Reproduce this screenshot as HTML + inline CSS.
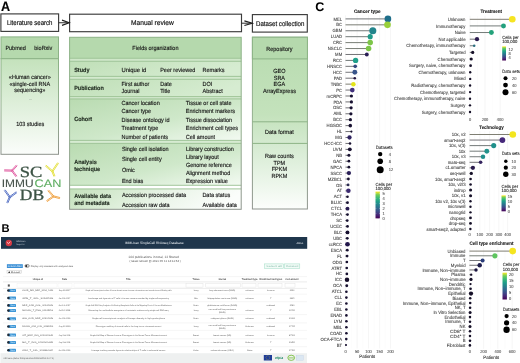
<!DOCTYPE html>
<html><head><meta charset="utf-8"><title>scIMMUcanDB figure</title>
<style>
html,body{margin:0;padding:0;background:#fff;}
body{width:520px;height:363px;overflow:hidden;}
svg{display:block;text-rendering:geometricPrecision;font-family:"Liberation Sans",Arial,sans-serif;}
</style></head><body>
<svg width="520" height="363" viewBox="0 0 520 363">
<defs>
<linearGradient id="gv" x1="0" y1="0" x2="0" y2="1"><stop offset="0" stop-color="#c4e2bc"/><stop offset="1" stop-color="#fbfdfb"/></linearGradient>
<linearGradient id="gd" x1="0" y1="0" x2="1" y2="1"><stop offset="0" stop-color="#b9dbb1"/><stop offset="0.55" stop-color="#cfe8ca"/><stop offset="1" stop-color="#f3faf2"/></linearGradient>
<linearGradient id="gd2" x1="0" y1="0" x2="1" y2="0.3"><stop offset="0" stop-color="#bfdfb7"/><stop offset="1" stop-color="#d6ecd1"/></linearGradient>
<linearGradient id="gd3" x1="0" y1="0" x2="1" y2="0.2"><stop offset="0" stop-color="#c3e1bb"/><stop offset="0.6" stop-color="#eaf5e8"/><stop offset="1" stop-color="#fbfdfb"/></linearGradient>
<linearGradient id="gds" x1="0" y1="0" x2="0" y2="1"><stop offset="0" stop-color="#b7dbaf"/><stop offset="0.45" stop-color="#c4e2bc"/><stop offset="0.62" stop-color="#d4ead0"/><stop offset="1" stop-color="#fcfefc"/></linearGradient>
<linearGradient id="gs" x1="0" y1="0" x2="0" y2="1"><stop offset="0" stop-color="#8cb386"/><stop offset="0.5" stop-color="#94b08f"/><stop offset="1" stop-color="#8e948d"/></linearGradient>
<linearGradient id="vir" x1="0" y1="1" x2="0" y2="0">
<stop offset="0" stop-color="#440154"/><stop offset="0.13" stop-color="#482878"/><stop offset="0.25" stop-color="#3e4a89"/><stop offset="0.38" stop-color="#31688e"/><stop offset="0.5" stop-color="#26828e"/><stop offset="0.63" stop-color="#1f9e89"/><stop offset="0.75" stop-color="#35b779"/><stop offset="0.88" stop-color="#6ece58"/><stop offset="1" stop-color="#fde725"/></linearGradient>
</defs>
<text x="1.00" y="11.10" font-size="13.608" stroke="#000" stroke-width="0.13" fill="#000" font-weight="bold" textLength="9.10" lengthAdjust="spacingAndGlyphs">A</text>
<rect x="0.90" y="13.90" width="57.70" height="17.50" fill="#fff" stroke="#3c3c3c" stroke-width="1.15"/>
<rect x="69.60" y="14.20" width="171.90" height="17.50" fill="#fff" stroke="#3c3c3c" stroke-width="1.15"/>
<rect x="252.40" y="14.60" width="54.90" height="17.50" fill="#fff" stroke="#3c3c3c" stroke-width="1.15"/>
<text x="6.90" y="24.90" font-size="6.9" stroke="#333" stroke-width="0.18" textLength="45.60" lengthAdjust="spacingAndGlyphs">Literature search</text>
<text x="131.00" y="25.10" font-size="6.9" stroke="#333" stroke-width="0.18" textLength="42.80" lengthAdjust="spacingAndGlyphs">Manual review</text>
<text x="256.00" y="25.60" font-size="6.9" stroke="#333" stroke-width="0.18" textLength="48.40" lengthAdjust="spacingAndGlyphs">Dataset collection</text>
<line x1="58.60" y1="22.75" x2="68.20" y2="22.75" stroke="#2a2a2a" stroke-width="1.0" />
<path d="M62.00,20.15 L69.20,22.75 L62.00,25.35" fill="none" stroke="#1e1e1e" stroke-width="1.15" stroke-linejoin="miter"/>
<line x1="241.60" y1="23.20" x2="251.20" y2="23.20" stroke="#2a2a2a" stroke-width="1.0" />
<path d="M244.40,20.90 L252.20,23.20 L244.40,25.50" fill="none" stroke="#1e1e1e" stroke-width="1.15" stroke-linejoin="miter"/>
<rect x="1.00" y="36.90" width="57.50" height="21.80" fill="#b5d9ad" stroke="#8cb386" stroke-width="1"/>
<rect x="1.00" y="58.70" width="57.50" height="95.60" fill="url(#gv)" stroke="url(#gs)" stroke-width="1"/>
<text x="5.40" y="50.10" font-size="5.94" stroke="#333" stroke-width="0.13" textLength="20.49" lengthAdjust="spacingAndGlyphs">Pubmed</text>
<text x="34.30" y="50.10" font-size="5.94" stroke="#333" stroke-width="0.13" textLength="18.03" lengthAdjust="spacingAndGlyphs">bioRxiv</text>
<text x="29.80" y="79.10" font-size="5.94" stroke="#333" stroke-width="0.13" text-anchor="middle" textLength="41.89" lengthAdjust="spacingAndGlyphs">«Human cancer»</text>
<text x="29.80" y="86.00" font-size="5.94" stroke="#333" stroke-width="0.13" text-anchor="middle" textLength="40.66" lengthAdjust="spacingAndGlyphs">«single-cell RNA</text>
<text x="29.80" y="92.40" font-size="5.94" stroke="#333" stroke-width="0.13" text-anchor="middle" textLength="31.19" lengthAdjust="spacingAndGlyphs">sequencing»</text>
<text x="30.30" y="99.50" font-size="4.32" stroke="#9aa59a" stroke-width="0.13" fill="#9aa59a" text-anchor="middle" textLength="3.33" lengthAdjust="spacingAndGlyphs">...</text>
<text x="30.20" y="126.00" font-size="5.94" stroke="#333" stroke-width="0.13" text-anchor="middle" textLength="28.13" lengthAdjust="spacingAndGlyphs">103 studies</text>
<rect x="69.60" y="37.30" width="171.60" height="21.00" fill="#b5d9ad"/>
<rect x="69.60" y="61.30" width="171.60" height="15.10" fill="url(#gd2)"/>
<rect x="69.60" y="79.30" width="171.60" height="17.30" fill="url(#gd2)"/>
<rect x="69.60" y="98.90" width="171.60" height="41.50" fill="url(#gd)"/>
<rect x="69.60" y="143.40" width="171.60" height="41.90" fill="url(#gd)"/>
<rect x="69.60" y="188.90" width="171.60" height="20.40" fill="url(#gd3)"/>
<rect x="69.60" y="58.30" width="171.60" height="3.00" fill="#cfe7c9"/>
<line x1="69.60" y1="58.30" x2="241.20" y2="58.30" stroke="#97bf90" stroke-width="0.9" />
<line x1="69.60" y1="61.30" x2="241.20" y2="61.30" stroke="#97bf90" stroke-width="0.9" />
<rect x="69.60" y="76.40" width="171.60" height="2.90" fill="#d3eace"/>
<line x1="69.60" y1="76.40" x2="241.20" y2="76.40" stroke="#97bf90" stroke-width="0.9" />
<line x1="69.60" y1="79.30" x2="241.20" y2="79.30" stroke="#97bf90" stroke-width="0.9" />
<rect x="69.60" y="96.60" width="171.60" height="2.30" fill="#d3eace"/>
<line x1="69.60" y1="96.60" x2="241.20" y2="96.60" stroke="#97bf90" stroke-width="0.9" />
<line x1="69.60" y1="98.90" x2="241.20" y2="98.90" stroke="#97bf90" stroke-width="0.9" />
<rect x="69.60" y="140.40" width="171.60" height="3.00" fill="#d6ebd1"/>
<line x1="69.60" y1="140.40" x2="241.20" y2="140.40" stroke="#97bf90" stroke-width="0.9" />
<line x1="69.60" y1="143.40" x2="241.20" y2="143.40" stroke="#97bf90" stroke-width="0.9" />
<rect x="69.60" y="185.30" width="171.60" height="3.60" fill="#ffffff"/>
<line x1="69.60" y1="185.30" x2="241.20" y2="185.30" stroke="#97bf90" stroke-width="0.9" />
<line x1="69.60" y1="188.90" x2="241.20" y2="188.90" stroke="#97bf90" stroke-width="0.9" />
<rect x="69.60" y="37.30" width="171.60" height="172.00" fill="none" stroke="url(#gs)" stroke-width="1"/>
<text x="155.40" y="50.00" font-size="5.94" stroke="#333" stroke-width="0.13" text-anchor="middle" textLength="46.17" lengthAdjust="spacingAndGlyphs">Fields organization</text>
<text x="74.20" y="72.40" font-size="5.94" stroke="#1f2a1f" stroke-width="0.13" fill="#1f2a1f" font-weight="bold" textLength="15.28" lengthAdjust="spacingAndGlyphs">Study</text>
<text x="121.50" y="72.40" font-size="5.94" stroke="#333" stroke-width="0.13" textLength="24.77" lengthAdjust="spacingAndGlyphs">Unique  id</text>
<text x="160.20" y="72.40" font-size="5.94" stroke="#333" stroke-width="0.13" textLength="35.16" lengthAdjust="spacingAndGlyphs">Peer reviewed</text>
<text x="202.60" y="72.40" font-size="5.94" stroke="#333" stroke-width="0.13" textLength="22.00" lengthAdjust="spacingAndGlyphs">Remarks</text>
<text x="74.20" y="89.70" font-size="5.94" stroke="#1f2a1f" stroke-width="0.13" fill="#1f2a1f" font-weight="bold" textLength="29.64" lengthAdjust="spacingAndGlyphs">Publication</text>
<text x="121.50" y="86.20" font-size="5.94" stroke="#333" stroke-width="0.13" textLength="27.81" lengthAdjust="spacingAndGlyphs">First author</text>
<text x="160.20" y="86.20" font-size="5.94" stroke="#333" stroke-width="0.13" textLength="11.62" lengthAdjust="spacingAndGlyphs">Date</text>
<text x="202.60" y="86.20" font-size="5.94" stroke="#333" stroke-width="0.13" textLength="9.78" lengthAdjust="spacingAndGlyphs">DOI</text>
<text x="121.50" y="93.20" font-size="5.94" stroke="#333" stroke-width="0.13" textLength="18.04" lengthAdjust="spacingAndGlyphs">Journal</text>
<text x="160.20" y="93.20" font-size="5.94" stroke="#333" stroke-width="0.13" textLength="10.19" lengthAdjust="spacingAndGlyphs">Title</text>
<text x="202.60" y="93.20" font-size="5.94" stroke="#333" stroke-width="0.13" textLength="20.17" lengthAdjust="spacingAndGlyphs">Abstract</text>
<text x="74.20" y="121.20" font-size="5.94" stroke="#1f2a1f" stroke-width="0.13" fill="#1f2a1f" font-weight="bold" textLength="18.02" lengthAdjust="spacingAndGlyphs">Cohort</text>
<text x="121.50" y="105.00" font-size="5.94" stroke="#333" stroke-width="0.13" textLength="38.22" lengthAdjust="spacingAndGlyphs">Cancer location</text>
<text x="185.80" y="105.00" font-size="5.94" stroke="#333" stroke-width="0.13" textLength="45.65" lengthAdjust="spacingAndGlyphs">Tissue or cell state</text>
<text x="121.50" y="113.48" font-size="5.94" stroke="#333" stroke-width="0.13" textLength="29.65" lengthAdjust="spacingAndGlyphs">Cancer type</text>
<text x="185.80" y="113.48" font-size="5.94" stroke="#333" stroke-width="0.13" textLength="49.21" lengthAdjust="spacingAndGlyphs">Enrichment markers</text>
<text x="121.50" y="121.96" font-size="5.94" stroke="#333" stroke-width="0.13" textLength="48.00" lengthAdjust="spacingAndGlyphs">Disease ontology id</text>
<text x="185.80" y="121.96" font-size="5.94" stroke="#333" stroke-width="0.13" textLength="46.26" lengthAdjust="spacingAndGlyphs">Tissue dissociation</text>
<text x="121.50" y="130.44" font-size="5.94" stroke="#333" stroke-width="0.13" textLength="36.78" lengthAdjust="spacingAndGlyphs">Treatment type</text>
<text x="185.80" y="130.44" font-size="5.94" stroke="#333" stroke-width="0.13" textLength="52.27" lengthAdjust="spacingAndGlyphs">Enrichment cell types</text>
<text x="121.50" y="138.92" font-size="5.94" stroke="#333" stroke-width="0.13" textLength="46.47" lengthAdjust="spacingAndGlyphs">Number of patients</text>
<text x="185.80" y="138.92" font-size="5.94" stroke="#333" stroke-width="0.13" textLength="29.35" lengthAdjust="spacingAndGlyphs">Cell amount</text>
<text x="74.20" y="164.40" font-size="5.94" stroke="#1f2a1f" stroke-width="0.13" fill="#1f2a1f" font-weight="bold" textLength="22.62" lengthAdjust="spacingAndGlyphs">Analysis</text>
<text x="74.20" y="171.00" font-size="5.94" stroke="#1f2a1f" stroke-width="0.13" fill="#1f2a1f" font-weight="bold" textLength="25.98" lengthAdjust="spacingAndGlyphs">technique</text>
<text x="121.90" y="150.70" font-size="5.94" stroke="#333" stroke-width="0.13" textLength="46.78" lengthAdjust="spacingAndGlyphs">Single cell isolation</text>
<text x="121.90" y="161.30" font-size="5.94" stroke="#333" stroke-width="0.13" textLength="39.74" lengthAdjust="spacingAndGlyphs">Single cell entity</text>
<text x="121.90" y="171.90" font-size="5.94" stroke="#333" stroke-width="0.13" textLength="12.83" lengthAdjust="spacingAndGlyphs">Omic</text>
<text x="121.90" y="182.70" font-size="5.94" stroke="#333" stroke-width="0.13" textLength="21.40" lengthAdjust="spacingAndGlyphs">End bias</text>
<text x="185.90" y="150.70" font-size="5.94" stroke="#333" stroke-width="0.13" textLength="47.99" lengthAdjust="spacingAndGlyphs">Library construction</text>
<text x="185.90" y="158.75" font-size="5.94" stroke="#333" stroke-width="0.13" textLength="33.02" lengthAdjust="spacingAndGlyphs">Library layout</text>
<text x="185.90" y="166.80" font-size="5.94" stroke="#333" stroke-width="0.13" textLength="45.86" lengthAdjust="spacingAndGlyphs">Genome reference</text>
<text x="185.90" y="174.85" font-size="5.94" stroke="#333" stroke-width="0.13" textLength="44.33" lengthAdjust="spacingAndGlyphs">Alignment method</text>
<text x="185.90" y="182.90" font-size="5.94" stroke="#333" stroke-width="0.13" textLength="41.89" lengthAdjust="spacingAndGlyphs">Expression value</text>
<text x="74.20" y="197.50" font-size="5.94" stroke="#1f2a1f" stroke-width="0.13" fill="#1f2a1f" font-weight="bold" textLength="36.78" lengthAdjust="spacingAndGlyphs">Available data</text>
<text x="74.20" y="204.50" font-size="5.94" stroke="#1f2a1f" stroke-width="0.13" fill="#1f2a1f" font-weight="bold" textLength="35.46" lengthAdjust="spacingAndGlyphs">and metadata</text>
<text x="121.90" y="197.10" font-size="5.94" stroke="#333" stroke-width="0.13" textLength="64.20" lengthAdjust="spacingAndGlyphs">Accession processed data</text>
<text x="202.40" y="197.10" font-size="5.94" stroke="#333" stroke-width="0.13" textLength="27.82" lengthAdjust="spacingAndGlyphs">Data status</text>
<text x="121.90" y="206.50" font-size="5.94" stroke="#333" stroke-width="0.13" textLength="47.69" lengthAdjust="spacingAndGlyphs">Accession raw data</text>
<text x="202.40" y="206.50" font-size="5.94" stroke="#333" stroke-width="0.13" textLength="34.45" lengthAdjust="spacingAndGlyphs">Available data</text>
<rect x="252.40" y="37.20" width="55.00" height="171.80" fill="url(#gds)" stroke="url(#gs)" stroke-width="1"/>
<rect x="252.40" y="37.20" width="55.00" height="21.70" fill="#b5d9ad" stroke="#8cb386" stroke-width="1"/>
<line x1="252.40" y1="121.80" x2="307.40" y2="121.80" stroke="#8cb386" stroke-width="1" />
<line x1="252.40" y1="143.40" x2="307.40" y2="143.40" stroke="#8cb386" stroke-width="1" />
<text x="279.40" y="51.20" font-size="5.94" stroke="#333" stroke-width="0.13" text-anchor="middle" textLength="26.29" lengthAdjust="spacingAndGlyphs">Repository</text>
<text x="279.40" y="72.80" font-size="5.94" stroke="#333" stroke-width="0.13" text-anchor="middle" textLength="12.22" lengthAdjust="spacingAndGlyphs">GEO</text>
<text x="279.40" y="79.60" font-size="5.94" stroke="#333" stroke-width="0.13" text-anchor="middle" textLength="11.31" lengthAdjust="spacingAndGlyphs">SRA</text>
<text x="279.40" y="86.40" font-size="5.94" stroke="#333" stroke-width="0.13" text-anchor="middle" textLength="11.62" lengthAdjust="spacingAndGlyphs">EGA</text>
<text x="279.40" y="93.20" font-size="5.94" stroke="#333" stroke-width="0.13" text-anchor="middle" textLength="33.01" lengthAdjust="spacingAndGlyphs">ArrayExpress</text>
<text x="279.40" y="133.70" font-size="5.94" stroke="#333" stroke-width="0.13" text-anchor="middle" textLength="28.73" lengthAdjust="spacingAndGlyphs">Data format</text>
<text x="279.40" y="157.80" font-size="5.94" stroke="#333" stroke-width="0.13" text-anchor="middle" textLength="28.74" lengthAdjust="spacingAndGlyphs">Raw counts</text>
<text x="279.40" y="164.55" font-size="5.94" stroke="#333" stroke-width="0.13" text-anchor="middle" textLength="11.61" lengthAdjust="spacingAndGlyphs">TPM</text>
<text x="279.40" y="171.30" font-size="5.94" stroke="#333" stroke-width="0.13" text-anchor="middle" textLength="15.28" lengthAdjust="spacingAndGlyphs">FPKM</text>
<text x="279.40" y="178.05" font-size="5.94" stroke="#333" stroke-width="0.13" text-anchor="middle" textLength="15.89" lengthAdjust="spacingAndGlyphs">RPKM</text>
<path d="M12.01,170.05L4.61,169.85M11.99,171.15L4.59,170.95M12.40,170.97L17.00,165.97M11.60,170.23L16.20,165.23M11.56,170.93L15.76,176.53M12.44,170.27L16.64,175.87" stroke="#df5aa0" stroke-width="0.95" stroke-linecap="round" fill="none"/>
<path d="M51.89,171.51L53.79,176.21M52.91,171.09L54.81,175.79M52.76,170.88L46.26,165.38M52.04,171.72L45.54,166.22M52.86,171.61L58.36,163.51M51.94,170.99L57.44,162.89" stroke="#e4e040" stroke-width="0.95" stroke-linecap="round" fill="none"/>
<path d="M9.30,196.98L6.90,202.38M10.30,197.42L7.90,202.82M10.25,196.88L5.35,190.08M9.35,197.52L4.45,190.72M10.13,197.64L16.63,192.84M9.47,196.76L15.97,191.96" stroke="#5470c4" stroke-width="0.95" stroke-linecap="round" fill="none"/>
<path d="M53.26,196.93L59.46,198.53M53.54,195.87L59.74,197.47M53.82,196.04L48.82,190.24M52.98,196.76L47.98,190.96M53.08,195.95L46.68,200.55M53.72,196.85L47.32,201.45" stroke="#efa448" stroke-width="0.95" stroke-linecap="round" fill="none"/>
<text x="19.80" y="176.90" font-size="15.6" stroke="#3d5446" stroke-width="0.3" fill="#3d5446" textLength="22.60" lengthAdjust="spacingAndGlyphs" font-family="'Liberation Serif', serif">SC</text>
<text x="1.80" y="187.40" font-size="11" stroke="#46524b" stroke-width="0.12" fill="#46524b" textLength="31.80" lengthAdjust="spacingAndGlyphs">IMMU</text>
<text x="34.60" y="187.40" font-size="11" stroke="#5fae62" stroke-width="0.12" fill="#5fae62" textLength="26.80" lengthAdjust="spacingAndGlyphs">CAN</text>
<text x="19.80" y="200.10" font-size="15.6" stroke="#3d5446" stroke-width="0.3" fill="#3d5446" textLength="24.40" lengthAdjust="spacingAndGlyphs" font-family="'Liberation Serif', serif">DB</text>
<text x="1.50" y="231.90" font-size="11.2" fill="#000" font-weight="bold">B</text>
<rect x="1.00" y="237.00" width="306.20" height="11.80" fill="#1f364c"/>
<circle cx="8.80" cy="243.00" r="3.20" fill="#d83a45"/>
<path d="M6.9,242.2 l1.6,1.4 l1.8,-2.0" stroke="#fff" stroke-width="0.7" fill="none"/>
<text x="16.20" y="242.40" font-size="2.2" fill="#c8d0d8">IMMUcan</text>
<text x="16.20" y="245.00" font-size="1.8" fill="#c8d0d8">SingleCell</text>
<text x="154.20" y="244.10" font-size="3.3" fill="#e8edf2" text-anchor="middle" textLength="58.60" lengthAdjust="spacingAndGlyphs">IMMUcan SingleCell RNAseq Database</text>
<text x="296.40" y="244.00" font-size="2.6" fill="#e8edf2" textLength="6.80" lengthAdjust="spacingAndGlyphs">About</text>
<text x="128.30" y="257.80" font-size="3.2" fill="#5a5a5a" textLength="50.50" lengthAdjust="spacingAndGlyphs">144 publications in total, 13 filtered</text>
<text x="129.60" y="262.30" font-size="2.9" fill="#555" textLength="51.20" lengthAdjust="spacingAndGlyphs">( latest refresh @ 2021-05-11 14:12:54 )</text>
<rect x="6.90" y="264.20" width="15.90" height="3.80" fill="#3a8fd6"/>
<text x="7.70" y="266.90" font-size="2.3" fill="#fff" textLength="14.20" lengthAdjust="spacingAndGlyphs">Column filter</text>
<rect x="25.0" y="264.6" width="4.2" height="2.6" rx="1.3" fill="#fff" stroke="#222" stroke-width="0.5"/>
<circle cx="26.30" cy="265.90" r="1.00" fill="#222"/>
<text x="30.80" y="267.00" font-size="2.5" fill="#555" textLength="42.20" lengthAdjust="spacingAndGlyphs">Display only datasets with analyzed data</text>
<rect x="7.00" y="270.20" width="14.40" height="3.50" fill="#fff" stroke="#bbb" stroke-width="0.4"/>
<path d="M8.2,273.0 l1,-1.9 l1,1.9z" fill="#222"/>
<text x="10.80" y="272.80" font-size="2.2" fill="#444" textLength="9.50" lengthAdjust="spacingAndGlyphs">Reset</text>
<rect x="264.50" y="263.90" width="19.00" height="4.50" fill="#f2fbf7" stroke="#9edcc4" stroke-width="0.5"/>
<rect x="284.60" y="263.90" width="15.20" height="4.50" fill="#f2fbf7" stroke="#9edcc4" stroke-width="0.5"/>
<text x="266.00" y="267.20" font-size="2.4" fill="#8bbfae" textLength="16.00" lengthAdjust="spacingAndGlyphs">Select all</text>
<text x="286.00" y="267.20" font-size="2.4" fill="#8bbfae" textLength="12.50" lengthAdjust="spacingAndGlyphs">Deselect</text>
<text x="37.70" y="280.10" font-size="2.4" stroke="#444" stroke-width="0.05" fill="#444" text-anchor="middle">Unique id</text>
<text x="64.60" y="280.10" font-size="2.4" stroke="#444" stroke-width="0.05" fill="#444" text-anchor="middle">Date</text>
<text x="128.30" y="280.10" font-size="2.4" stroke="#444" stroke-width="0.05" fill="#444" text-anchor="middle">Title</text>
<text x="196.00" y="280.10" font-size="2.4" stroke="#444" stroke-width="0.05" fill="#444" text-anchor="middle">Tissue</text>
<text x="222.20" y="280.10" font-size="2.4" stroke="#444" stroke-width="0.05" fill="#444" text-anchor="middle">Journal</text>
<text x="249.70" y="280.10" font-size="2.4" stroke="#444" stroke-width="0.05" fill="#444" text-anchor="middle">Treatment type</text>
<text x="270.80" y="280.10" font-size="2.4" stroke="#444" stroke-width="0.05" fill="#444" text-anchor="middle">Enrichment cell types</text>
<text x="292.00" y="280.10" font-size="2.4" stroke="#444" stroke-width="0.05" fill="#444" text-anchor="middle">Cell amount</text>
<line x1="3.00" y1="276.60" x2="307.00" y2="276.60" stroke="#e6e6e6" stroke-width="0.4" />
<line x1="3.00" y1="281.90" x2="307.00" y2="281.90" stroke="#d8d8d8" stroke-width="0.5" />
<line x1="3.00" y1="288.40" x2="307.00" y2="288.40" stroke="#d8d8d8" stroke-width="0.5" />
<path d="M7.8,284.4 h2 v2.2 h-2z" fill="#555"/>
<rect x="17.00" y="283.30" width="40.00" height="3.80" fill="#fff" stroke="#eee" stroke-width="0.4"/>
<rect x="58.00" y="283.30" width="14.00" height="3.80" fill="#fff" stroke="#eee" stroke-width="0.4"/>
<rect x="74.00" y="283.30" width="128.00" height="3.80" fill="#fff" stroke="#eee" stroke-width="0.4"/>
<rect x="186.00" y="283.30" width="17.00" height="3.80" fill="#fff" stroke="#ddd" stroke-width="0.4"/>
<rect x="205.80" y="283.30" width="34.60" height="3.80" fill="#fff" stroke="#ddd" stroke-width="0.4"/>
<rect x="242.00" y="283.30" width="14.00" height="3.80" fill="#fff" stroke="#ddd" stroke-width="0.4"/>
<rect x="258.00" y="283.30" width="24.00" height="3.80" fill="#fff" stroke="#ddd" stroke-width="0.4"/>
<rect x="285.00" y="283.30" width="10.00" height="3.80" fill="#fff" stroke="#ddd" stroke-width="0.4"/>
<rect x="8.6" y="289.00" width="7.4" height="3.0" rx="0.5" fill="#3f98d8"/>
<circle cx="8.40" cy="290.50" r="1.30" fill="#1c2a3a"/>
<text x="10.60" y="291.30" font-size="2.1" fill="#e8f2fb" textLength="4.20" lengthAdjust="spacingAndGlyphs">View</text>
<text x="37.70" y="291.25" font-size="2.1" fill="#555" text-anchor="middle" textLength="31.00" lengthAdjust="spacingAndGlyphs">CLAR_BIR_BRE_2018_ANN</text>
<text x="64.60" y="291.25" font-size="2.1" fill="#555" text-anchor="middle" textLength="11.50" lengthAdjust="spacingAndGlyphs">Sep 28 2017</text>
<text x="128.50" y="291.25" font-size="2.1" fill="#555" text-anchor="middle" textLength="86.00" lengthAdjust="spacingAndGlyphs">Single-cell transcriptomic atlas of human breast cancer immune microenvironment reveals tumor-infiltrating cells</text>
<text x="196.00" y="291.25" font-size="2.1" fill="#555" text-anchor="middle">Lung</text>
<text x="222.20" y="291.25" font-size="2.1" fill="#555" text-anchor="middle" textLength="26.00" lengthAdjust="spacingAndGlyphs">lung adenocarcinoma (DOID)</text>
<text x="249.70" y="291.25" font-size="2.1" fill="#555" text-anchor="middle">unknown</text>
<text x="270.80" y="291.25" font-size="2.1" fill="#555" text-anchor="middle">Immune</text>
<text x="292.00" y="291.25" font-size="2.1" fill="#555" text-anchor="middle">3662</text>
<rect x="8.6" y="296.50" width="7.4" height="3.0" rx="0.5" fill="#3f98d8"/>
<circle cx="8.40" cy="298.00" r="1.30" fill="#1c2a3a"/>
<text x="10.60" y="298.80" font-size="2.1" fill="#e8f2fb" textLength="4.20" lengthAdjust="spacingAndGlyphs">View</text>
<text x="37.70" y="298.75" font-size="2.1" fill="#555" text-anchor="middle" textLength="31.00" lengthAdjust="spacingAndGlyphs">SFD_T_SKL_2019ESB</text>
<text x="64.60" y="298.75" font-size="2.1" fill="#555" text-anchor="middle" textLength="11.50" lengthAdjust="spacingAndGlyphs">Jan 10th 2017</text>
<text x="128.50" y="298.75" font-size="2.1" fill="#555" text-anchor="middle" textLength="80.75" lengthAdjust="spacingAndGlyphs">Landscape and dynamics of T cells in human cancers revealed by single-cell sequencing</text>
<text x="196.00" y="298.75" font-size="2.1" fill="#555" text-anchor="middle">Skin</text>
<text x="222.20" y="298.75" font-size="2.1" fill="#555" text-anchor="middle" textLength="30.00" lengthAdjust="spacingAndGlyphs">Subpopulation carcinoma (DOID)</text>
<text x="249.70" y="298.75" font-size="2.1" fill="#555" text-anchor="middle">unknown</text>
<text x="270.80" y="298.75" font-size="2.1" fill="#555" text-anchor="middle">T</text>
<text x="292.00" y="298.75" font-size="2.1" fill="#555" text-anchor="middle">3895</text>
<rect x="8.6" y="303.90" width="7.4" height="3.0" rx="0.5" fill="#3f98d8"/>
<circle cx="8.40" cy="305.40" r="1.30" fill="#1c2a3a"/>
<text x="10.60" y="306.20" font-size="2.1" fill="#e8f2fb" textLength="4.20" lengthAdjust="spacingAndGlyphs">View</text>
<text x="37.70" y="306.15" font-size="2.1" fill="#555" text-anchor="middle" textLength="31.00" lengthAdjust="spacingAndGlyphs">BRE_CAR_COL_2019ANN</text>
<text x="64.60" y="306.15" font-size="2.1" fill="#555" text-anchor="middle" textLength="11.50" lengthAdjust="spacingAndGlyphs">Oct 8 th 2017</text>
<text x="128.50" y="306.15" font-size="2.1" fill="#555" text-anchor="middle" textLength="86.00" lengthAdjust="spacingAndGlyphs">Single Cell RNA-Seq Analysis of Infiltrating Neoplastic Cells at the Migrating Front of Human Glioblastoma</text>
<text x="196.00" y="306.15" font-size="2.1" fill="#555" text-anchor="middle">Brain</text>
<text x="222.20" y="306.15" font-size="2.1" fill="#555" text-anchor="middle" textLength="30.00" lengthAdjust="spacingAndGlyphs">glioblastoma multiforme (DOID)</text>
<text x="249.70" y="306.15" font-size="2.1" fill="#555" text-anchor="middle"></text>
<text x="270.80" y="306.15" font-size="2.1" fill="#555" text-anchor="middle">unbiased</text>
<text x="292.00" y="306.15" font-size="2.1" fill="#555" text-anchor="middle">3589</text>
<rect x="8.6" y="309.10" width="7.4" height="3.0" rx="0.5" fill="#3f98d8"/>
<circle cx="8.40" cy="310.60" r="1.30" fill="#1c2a3a"/>
<text x="10.60" y="311.40" font-size="2.1" fill="#e8f2fb" textLength="4.20" lengthAdjust="spacingAndGlyphs">View</text>
<text x="37.70" y="311.35" font-size="2.1" fill="#555" text-anchor="middle" textLength="31.00" lengthAdjust="spacingAndGlyphs">MCSCU_T_ENG_2019REG</text>
<text x="64.60" y="311.35" font-size="2.1" fill="#555" text-anchor="middle" textLength="11.50" lengthAdjust="spacingAndGlyphs">Jul 16 2018</text>
<text x="128.50" y="311.35" font-size="2.1" fill="#555" text-anchor="middle" textLength="79.80" lengthAdjust="spacingAndGlyphs">Dissecting the multicellular ecosystem of metastatic melanoma by single-cell RNA-seq</text>
<text x="196.00" y="311.35" font-size="2.1" fill="#555" text-anchor="middle">Lung</text>
<text x="222.20" y="310.20" font-size="2.1" fill="#555" text-anchor="middle">non-small cell lung carcinoma</text>
<text x="222.20" y="313.00" font-size="2.1" fill="#555" text-anchor="middle">(DOID)</text>
<text x="249.70" y="311.35" font-size="2.1" fill="#555" text-anchor="middle">unknown</text>
<text x="270.80" y="311.35" font-size="2.1" fill="#555" text-anchor="middle">T</text>
<text x="292.00" y="311.35" font-size="2.1" fill="#555" text-anchor="middle">16760</text>
<rect x="8.6" y="317.20" width="7.4" height="3.0" rx="0.5" fill="#3f98d8"/>
<circle cx="8.40" cy="318.70" r="1.30" fill="#1c2a3a"/>
<text x="10.60" y="319.50" font-size="2.1" fill="#e8f2fb" textLength="4.20" lengthAdjust="spacingAndGlyphs">View</text>
<text x="37.70" y="319.45" font-size="2.1" fill="#555" text-anchor="middle" textLength="31.00" lengthAdjust="spacingAndGlyphs">GIO_CAR_BRE_2020ANN</text>
<text x="64.60" y="319.45" font-size="2.1" fill="#555" text-anchor="middle" textLength="11.50" lengthAdjust="spacingAndGlyphs">Jun 20th 2018</text>
<text x="128.50" y="319.45" font-size="2.1" fill="#555" text-anchor="middle" textLength="73.15" lengthAdjust="spacingAndGlyphs">Single-cell transcriptomic analysis of lineage diversity in high-grade glioma</text>
<text x="196.00" y="319.45" font-size="2.1" fill="#555" text-anchor="middle">Brain</text>
<text x="222.20" y="319.45" font-size="2.1" fill="#555" text-anchor="middle" textLength="23.00" lengthAdjust="spacingAndGlyphs">malignant glioma (DOID)</text>
<text x="249.70" y="319.45" font-size="2.1" fill="#555" text-anchor="middle">unknown</text>
<text x="270.80" y="319.45" font-size="2.1" fill="#555" text-anchor="middle">unbiased</text>
<text x="292.00" y="319.45" font-size="2.1" fill="#555" text-anchor="middle">20223</text>
<rect x="8.6" y="325.00" width="7.4" height="3.0" rx="0.5" fill="#3f98d8"/>
<circle cx="8.40" cy="326.50" r="1.30" fill="#1c2a3a"/>
<text x="10.60" y="327.30" font-size="2.1" fill="#e8f2fb" textLength="4.20" lengthAdjust="spacingAndGlyphs">View</text>
<text x="37.70" y="327.25" font-size="2.1" fill="#555" text-anchor="middle" textLength="31.00" lengthAdjust="spacingAndGlyphs">RCCCU_CAR_CHU_2018REG</text>
<text x="64.60" y="327.25" font-size="2.1" fill="#555" text-anchor="middle" textLength="11.50" lengthAdjust="spacingAndGlyphs">Aug 16 2018</text>
<text x="128.50" y="327.25" font-size="2.1" fill="#555" text-anchor="middle" textLength="65.55" lengthAdjust="spacingAndGlyphs">Phenotype molding of stromal cells in the lung tumor microenvironment</text>
<text x="196.00" y="327.25" font-size="2.1" fill="#555" text-anchor="middle">Lung</text>
<text x="222.20" y="326.10" font-size="2.1" fill="#555" text-anchor="middle">non-small cell lung carcinoma</text>
<text x="222.20" y="328.90" font-size="2.1" fill="#555" text-anchor="middle">(DOID)</text>
<text x="249.70" y="327.25" font-size="2.1" fill="#555" text-anchor="middle">Unknown</text>
<text x="270.80" y="327.25" font-size="2.1" fill="#555" text-anchor="middle">unbiased</text>
<text x="292.00" y="327.25" font-size="2.1" fill="#555" text-anchor="middle">37765</text>
<rect x="8.6" y="333.40" width="7.4" height="3.0" rx="0.5" fill="#3f98d8"/>
<circle cx="8.40" cy="334.90" r="1.30" fill="#1c2a3a"/>
<text x="10.60" y="335.70" font-size="2.1" fill="#e8f2fb" textLength="4.20" lengthAdjust="spacingAndGlyphs">View</text>
<text x="37.70" y="335.65" font-size="2.1" fill="#555" text-anchor="middle" textLength="31.00" lengthAdjust="spacingAndGlyphs">SIT_BRE_INS_2019YOUR</text>
<text x="64.60" y="335.65" font-size="2.1" fill="#555" text-anchor="middle" textLength="11.50" lengthAdjust="spacingAndGlyphs">Aug 23rd 2018</text>
<text x="128.50" y="335.65" font-size="2.1" fill="#555" text-anchor="middle" textLength="76.95" lengthAdjust="spacingAndGlyphs">Single-Cell Map of Diverse Immune Phenotypes in the Breast Tumor Microenvironment</text>
<text x="196.00" y="335.65" font-size="2.1" fill="#555" text-anchor="middle">Breast</text>
<text x="222.20" y="335.65" font-size="2.1" fill="#555" text-anchor="middle" textLength="18.00" lengthAdjust="spacingAndGlyphs">breast cancer (BR)</text>
<text x="249.70" y="335.65" font-size="2.1" fill="#555" text-anchor="middle">unknown</text>
<text x="270.80" y="335.65" font-size="2.1" fill="#555" text-anchor="middle">Immune</text>
<text x="292.00" y="335.65" font-size="2.1" fill="#555" text-anchor="middle">47593</text>
<rect x="8.6" y="340.90" width="7.4" height="3.0" rx="0.5" fill="#3f98d8"/>
<circle cx="8.40" cy="342.40" r="1.30" fill="#1c2a3a"/>
<text x="10.60" y="343.20" font-size="2.1" fill="#e8f2fb" textLength="4.20" lengthAdjust="spacingAndGlyphs">View</text>
<text x="37.70" y="343.15" font-size="2.1" fill="#555" text-anchor="middle" textLength="31.00" lengthAdjust="spacingAndGlyphs">BC_T_INS_2019YOUR</text>
<text x="64.60" y="343.15" font-size="2.1" fill="#555" text-anchor="middle" textLength="11.50" lengthAdjust="spacingAndGlyphs">Aug 23rd 2018</text>
<text x="128.50" y="343.15" font-size="2.1" fill="#555" text-anchor="middle" textLength="76.95" lengthAdjust="spacingAndGlyphs">Single-Cell Map of Diverse Immune Phenotypes in the Breast Tumor Microenvironment</text>
<text x="196.00" y="343.15" font-size="2.1" fill="#555" text-anchor="middle">Breast</text>
<text x="222.20" y="343.15" font-size="2.1" fill="#555" text-anchor="middle" textLength="18.00" lengthAdjust="spacingAndGlyphs">breast cancer (BR)</text>
<text x="249.70" y="343.15" font-size="2.1" fill="#555" text-anchor="middle">Unknown</text>
<text x="270.80" y="343.15" font-size="2.1" fill="#555" text-anchor="middle">T</text>
<text x="292.00" y="343.15" font-size="2.1" fill="#555" text-anchor="middle">29450</text>
<rect x="8.6" y="348.70" width="7.4" height="3.0" rx="0.5" fill="#3f98d8"/>
<circle cx="8.40" cy="350.20" r="1.30" fill="#1c2a3a"/>
<text x="10.60" y="351.00" font-size="2.1" fill="#e8f2fb" textLength="4.20" lengthAdjust="spacingAndGlyphs">View</text>
<text x="37.70" y="350.95" font-size="2.1" fill="#555" text-anchor="middle" textLength="31.00" lengthAdjust="spacingAndGlyphs">CRC_T_SKL_2018BOXE</text>
<text x="64.60" y="350.95" font-size="2.1" fill="#555" text-anchor="middle" textLength="11.50" lengthAdjust="spacingAndGlyphs">Oct 26th 2018</text>
<text x="128.50" y="350.95" font-size="2.1" fill="#555" text-anchor="middle" textLength="74.10" lengthAdjust="spacingAndGlyphs">Lineage tracking reveals dynamic relationships of T cells in colorectal cancer</text>
<text x="196.00" y="350.95" font-size="2.1" fill="#555" text-anchor="middle">Colon</text>
<text x="222.20" y="350.95" font-size="2.1" fill="#555" text-anchor="middle" textLength="23.00" lengthAdjust="spacingAndGlyphs">colorectal cancer (CRC)</text>
<text x="249.70" y="350.95" font-size="2.1" fill="#555" text-anchor="middle">Naive</text>
<text x="270.80" y="350.95" font-size="2.1" fill="#555" text-anchor="middle">T</text>
<text x="292.00" y="350.95" font-size="2.1" fill="#555" text-anchor="middle">17150</text>
<line x1="3.00" y1="294.20" x2="307.00" y2="294.20" stroke="#ececec" stroke-width="0.5" />
<line x1="3.00" y1="301.70" x2="307.00" y2="301.70" stroke="#ececec" stroke-width="0.5" />
<line x1="3.00" y1="314.60" x2="307.00" y2="314.60" stroke="#ececec" stroke-width="0.5" />
<line x1="3.00" y1="322.90" x2="307.00" y2="322.90" stroke="#ececec" stroke-width="0.5" />
<line x1="3.00" y1="330.40" x2="307.00" y2="330.40" stroke="#ececec" stroke-width="0.5" />
<line x1="3.00" y1="338.80" x2="307.00" y2="338.80" stroke="#ececec" stroke-width="0.5" />
<line x1="3.00" y1="346.70" x2="307.00" y2="346.70" stroke="#ececec" stroke-width="0.5" />
<rect x="0.50" y="353.20" width="306.50" height="10.00" fill="#eef0f0"/>
<text x="3.40" y="358.90" font-size="2.2" fill="#555" textLength="50.40" lengthAdjust="spacingAndGlyphs">0.88 secs (status: 200/production/2020/04/29.1.5.0.7.0)</text>
<rect x="263.80" y="355.00" width="8.20" height="5.50" fill="#1f3d99"/>
<circle cx="269.90" cy="357.75" r="0.25" fill="#ffdd00"/>
<circle cx="269.63" cy="358.75" r="0.25" fill="#ffdd00"/>
<circle cx="268.90" cy="359.48" r="0.25" fill="#ffdd00"/>
<circle cx="267.90" cy="359.75" r="0.25" fill="#ffdd00"/>
<circle cx="266.90" cy="359.48" r="0.25" fill="#ffdd00"/>
<circle cx="266.17" cy="358.75" r="0.25" fill="#ffdd00"/>
<circle cx="265.90" cy="357.75" r="0.25" fill="#ffdd00"/>
<circle cx="266.17" cy="356.75" r="0.25" fill="#ffdd00"/>
<circle cx="266.90" cy="356.02" r="0.25" fill="#ffdd00"/>
<circle cx="267.90" cy="355.75" r="0.25" fill="#ffdd00"/>
<circle cx="268.90" cy="356.02" r="0.25" fill="#ffdd00"/>
<circle cx="269.63" cy="356.75" r="0.25" fill="#ffdd00"/>
<text x="275.00" y="359.20" font-size="3.6" fill="#2b8f6e" font-weight="bold" textLength="8.20" lengthAdjust="spacingAndGlyphs" font-style="italic">efpia</text>
<ellipse cx="291.2" cy="357.8" rx="3.4" ry="2.6" fill="none" stroke="#7ac143" stroke-width="0.9"/>
<path d="M288.5,357.9 h5.4" stroke="#7ac143" stroke-width="0.8"/>
<rect x="296.20" y="355.40" width="7.20" height="4.80" fill="#dbe7f2" stroke="#b7cde3" stroke-width="0.3"/>
<text x="315.20" y="11.10" font-size="12.6" fill="#000" font-weight="bold">C</text>
<line x1="345.50" y1="15.40" x2="345.50" y2="348.55" stroke="#ebebeb" stroke-width="0.45" />
<line x1="357.10" y1="15.40" x2="357.10" y2="348.55" stroke="#ebebeb" stroke-width="0.45" />
<line x1="368.50" y1="15.40" x2="368.50" y2="348.55" stroke="#ebebeb" stroke-width="0.45" />
<line x1="379.60" y1="15.40" x2="379.60" y2="348.55" stroke="#ebebeb" stroke-width="0.45" />
<line x1="390.50" y1="15.40" x2="390.50" y2="348.55" stroke="#ebebeb" stroke-width="0.45" />
<line x1="351.30" y1="15.40" x2="351.30" y2="348.55" stroke="#f5f5f5" stroke-width="0.35" />
<line x1="362.80" y1="15.40" x2="362.80" y2="348.55" stroke="#f5f5f5" stroke-width="0.35" />
<line x1="374.05" y1="15.40" x2="374.05" y2="348.55" stroke="#f5f5f5" stroke-width="0.35" />
<line x1="385.05" y1="15.40" x2="385.05" y2="348.55" stroke="#f5f5f5" stroke-width="0.35" />
<text x="353.90" y="12.90" font-size="5.0" stroke="#111" stroke-width="0.08" fill="#111" font-weight="bold" textLength="26.70" lengthAdjust="spacingAndGlyphs">Cancer type</text>
<text x="342.20" y="20.50" font-size="4.633" stroke="#3a3a3a" stroke-width="0.08" fill="#3a3a3a" text-anchor="end" textLength="8.74" lengthAdjust="spacingAndGlyphs">MEL</text>
<text x="342.20" y="26.43" font-size="4.633" stroke="#3a3a3a" stroke-width="0.08" fill="#3a3a3a" text-anchor="end" textLength="5.90" lengthAdjust="spacingAndGlyphs">BC</text>
<text x="342.20" y="32.36" font-size="4.633" stroke="#3a3a3a" stroke-width="0.08" fill="#3a3a3a" text-anchor="end" textLength="9.68" lengthAdjust="spacingAndGlyphs">GBM</text>
<text x="342.20" y="38.29" font-size="4.633" stroke="#3a3a3a" stroke-width="0.08" fill="#3a3a3a" text-anchor="end" textLength="11.34" lengthAdjust="spacingAndGlyphs">LUAD</text>
<text x="342.20" y="44.22" font-size="4.633" stroke="#3a3a3a" stroke-width="0.08" fill="#3a3a3a" text-anchor="end" textLength="9.21" lengthAdjust="spacingAndGlyphs">CRC</text>
<text x="342.20" y="50.15" font-size="4.633" stroke="#3a3a3a" stroke-width="0.08" fill="#3a3a3a" text-anchor="end" textLength="14.41" lengthAdjust="spacingAndGlyphs">NSCLC</text>
<text x="342.20" y="56.08" font-size="4.633" stroke="#3a3a3a" stroke-width="0.08" fill="#3a3a3a" text-anchor="end" textLength="7.08" lengthAdjust="spacingAndGlyphs">MM</text>
<text x="342.20" y="62.01" font-size="4.633" stroke="#3a3a3a" stroke-width="0.08" fill="#3a3a3a" text-anchor="end" textLength="9.21" lengthAdjust="spacingAndGlyphs">RCC</text>
<text x="342.20" y="67.94" font-size="4.633" stroke="#3a3a3a" stroke-width="0.08" fill="#3a3a3a" text-anchor="end" textLength="15.11" lengthAdjust="spacingAndGlyphs">HNSCC</text>
<text x="342.20" y="73.87" font-size="4.633" stroke="#3a3a3a" stroke-width="0.08" fill="#3a3a3a" text-anchor="end" textLength="9.21" lengthAdjust="spacingAndGlyphs">HCC</text>
<text x="342.20" y="79.80" font-size="4.633" stroke="#3a3a3a" stroke-width="0.08" fill="#3a3a3a" text-anchor="end" textLength="8.42" lengthAdjust="spacingAndGlyphs">PAD</text>
<text x="342.20" y="85.73" font-size="4.633" stroke="#3a3a3a" stroke-width="0.08" fill="#3a3a3a" text-anchor="end" textLength="11.57" lengthAdjust="spacingAndGlyphs">TNBC</text>
<text x="342.20" y="91.66" font-size="4.633" stroke="#3a3a3a" stroke-width="0.08" fill="#3a3a3a" text-anchor="end" textLength="5.90" lengthAdjust="spacingAndGlyphs">PC</text>
<text x="342.20" y="97.59" font-size="4.633" stroke="#3a3a3a" stroke-width="0.08" fill="#3a3a3a" text-anchor="end" textLength="15.58" lengthAdjust="spacingAndGlyphs">mCRPC</text>
<text x="342.20" y="103.52" font-size="4.633" stroke="#3a3a3a" stroke-width="0.08" fill="#3a3a3a" text-anchor="end" textLength="8.74" lengthAdjust="spacingAndGlyphs">PDA</text>
<text x="342.20" y="109.45" font-size="4.633" stroke="#3a3a3a" stroke-width="0.08" fill="#3a3a3a" text-anchor="end" textLength="9.21" lengthAdjust="spacingAndGlyphs">OSC</text>
<text x="342.20" y="115.38" font-size="4.633" stroke="#3a3a3a" stroke-width="0.08" fill="#3a3a3a" text-anchor="end" textLength="8.74" lengthAdjust="spacingAndGlyphs">AML</text>
<text x="342.20" y="121.31" font-size="4.633" stroke="#3a3a3a" stroke-width="0.08" fill="#3a3a3a" text-anchor="end" textLength="8.97" lengthAdjust="spacingAndGlyphs">BCC</text>
<text x="342.20" y="127.24" font-size="4.633" stroke="#3a3a3a" stroke-width="0.08" fill="#3a3a3a" text-anchor="end" textLength="15.58" lengthAdjust="spacingAndGlyphs">HGSOC</text>
<text x="342.20" y="133.17" font-size="4.633" stroke="#3a3a3a" stroke-width="0.08" fill="#3a3a3a" text-anchor="end" textLength="5.43" lengthAdjust="spacingAndGlyphs">HL</text>
<text x="342.20" y="139.10" font-size="4.633" stroke="#3a3a3a" stroke-width="0.08" fill="#3a3a3a" text-anchor="end" textLength="6.85" lengthAdjust="spacingAndGlyphs">MG</text>
<text x="342.20" y="145.03" font-size="4.633" stroke="#3a3a3a" stroke-width="0.08" fill="#3a3a3a" text-anchor="end" textLength="17.94" lengthAdjust="spacingAndGlyphs">HCC-ICC</text>
<text x="342.20" y="150.96" font-size="4.633" stroke="#3a3a3a" stroke-width="0.08" fill="#3a3a3a" text-anchor="end" textLength="9.44" lengthAdjust="spacingAndGlyphs">UVM</text>
<text x="342.20" y="156.89" font-size="4.633" stroke="#3a3a3a" stroke-width="0.08" fill="#3a3a3a" text-anchor="end" textLength="5.90" lengthAdjust="spacingAndGlyphs">NB</text>
<text x="342.20" y="162.82" font-size="4.633" stroke="#3a3a3a" stroke-width="0.08" fill="#3a3a3a" text-anchor="end" textLength="9.21" lengthAdjust="spacingAndGlyphs">GAC</text>
<text x="342.20" y="168.75" font-size="4.633" stroke="#3a3a3a" stroke-width="0.08" fill="#3a3a3a" text-anchor="end" textLength="11.81" lengthAdjust="spacingAndGlyphs">NPCA</text>
<text x="342.20" y="174.68" font-size="4.633" stroke="#3a3a3a" stroke-width="0.08" fill="#3a3a3a" text-anchor="end" textLength="11.81" lengthAdjust="spacingAndGlyphs">SSCC</text>
<text x="342.20" y="180.61" font-size="4.633" stroke="#3a3a3a" stroke-width="0.08" fill="#3a3a3a" text-anchor="end" textLength="14.40" lengthAdjust="spacingAndGlyphs">MZBCL</text>
<text x="342.20" y="186.54" font-size="4.633" stroke="#3a3a3a" stroke-width="0.08" fill="#3a3a3a" text-anchor="end" textLength="6.14" lengthAdjust="spacingAndGlyphs">OS</text>
<text x="342.20" y="192.47" font-size="4.633" stroke="#3a3a3a" stroke-width="0.08" fill="#3a3a3a" text-anchor="end" textLength="5.12" lengthAdjust="spacingAndGlyphs">AT</text>
<text x="342.20" y="198.40" font-size="4.633" stroke="#3a3a3a" stroke-width="0.08" fill="#3a3a3a" text-anchor="end" textLength="8.50" lengthAdjust="spacingAndGlyphs">ACT</text>
<text x="342.20" y="204.33" font-size="4.633" stroke="#3a3a3a" stroke-width="0.08" fill="#3a3a3a" text-anchor="end" textLength="11.34" lengthAdjust="spacingAndGlyphs">BLUC</text>
<text x="342.20" y="210.26" font-size="4.633" stroke="#3a3a3a" stroke-width="0.08" fill="#3a3a3a" text-anchor="end" textLength="11.10" lengthAdjust="spacingAndGlyphs">CTCL</text>
<text x="342.20" y="216.19" font-size="4.633" stroke="#3a3a3a" stroke-width="0.08" fill="#3a3a3a" text-anchor="end" textLength="11.57" lengthAdjust="spacingAndGlyphs">THCA</text>
<text x="342.20" y="222.12" font-size="4.633" stroke="#3a3a3a" stroke-width="0.08" fill="#3a3a3a" text-anchor="end" textLength="5.90" lengthAdjust="spacingAndGlyphs">SC</text>
<text x="342.20" y="228.05" font-size="4.633" stroke="#3a3a3a" stroke-width="0.08" fill="#3a3a3a" text-anchor="end" textLength="12.04" lengthAdjust="spacingAndGlyphs">UCEC</text>
<text x="342.20" y="233.98" font-size="4.633" stroke="#3a3a3a" stroke-width="0.08" fill="#3a3a3a" text-anchor="end" textLength="8.27" lengthAdjust="spacingAndGlyphs">BLC</text>
<text x="342.20" y="239.91" font-size="4.633" stroke="#3a3a3a" stroke-width="0.08" fill="#3a3a3a" text-anchor="end" textLength="8.97" lengthAdjust="spacingAndGlyphs">UBC</text>
<text x="342.20" y="245.84" font-size="4.633" stroke="#3a3a3a" stroke-width="0.08" fill="#3a3a3a" text-anchor="end" textLength="13.46" lengthAdjust="spacingAndGlyphs">ccRCC</text>
<text x="342.20" y="251.77" font-size="4.633" stroke="#3a3a3a" stroke-width="0.08" fill="#3a3a3a" text-anchor="end" textLength="11.57" lengthAdjust="spacingAndGlyphs">ESCA</text>
<text x="342.20" y="257.70" font-size="4.633" stroke="#3a3a3a" stroke-width="0.08" fill="#3a3a3a" text-anchor="end" textLength="4.96" lengthAdjust="spacingAndGlyphs">FL</text>
<text x="342.20" y="263.63" font-size="4.633" stroke="#3a3a3a" stroke-width="0.08" fill="#3a3a3a" text-anchor="end" textLength="9.68" lengthAdjust="spacingAndGlyphs">ODG</text>
<text x="342.20" y="269.56" font-size="4.633" stroke="#3a3a3a" stroke-width="0.08" fill="#3a3a3a" text-anchor="end" textLength="10.70" lengthAdjust="spacingAndGlyphs">ATRT</text>
<text x="342.20" y="275.49" font-size="4.633" stroke="#3a3a3a" stroke-width="0.08" fill="#3a3a3a" text-anchor="end" textLength="6.14" lengthAdjust="spacingAndGlyphs">HC</text>
<text x="342.20" y="281.42" font-size="4.633" stroke="#3a3a3a" stroke-width="0.08" fill="#3a3a3a" text-anchor="end" textLength="7.32" lengthAdjust="spacingAndGlyphs">ICC</text>
<text x="342.20" y="287.35" font-size="4.633" stroke="#3a3a3a" stroke-width="0.08" fill="#3a3a3a" text-anchor="end" textLength="9.21" lengthAdjust="spacingAndGlyphs">OCA</text>
<text x="342.20" y="293.28" font-size="4.633" stroke="#3a3a3a" stroke-width="0.08" fill="#3a3a3a" text-anchor="end" textLength="10.55" lengthAdjust="spacingAndGlyphs">ATCL</text>
<text x="342.20" y="299.21" font-size="4.633" stroke="#3a3a3a" stroke-width="0.08" fill="#3a3a3a" text-anchor="end" textLength="7.80" lengthAdjust="spacingAndGlyphs">CLL</text>
<text x="342.20" y="305.14" font-size="4.633" stroke="#3a3a3a" stroke-width="0.08" fill="#3a3a3a" text-anchor="end" textLength="5.90" lengthAdjust="spacingAndGlyphs">EC</text>
<text x="342.20" y="311.07" font-size="4.633" stroke="#3a3a3a" stroke-width="0.08" fill="#3a3a3a" text-anchor="end" textLength="8.03" lengthAdjust="spacingAndGlyphs">EBL</text>
<text x="342.20" y="317.00" font-size="4.633" stroke="#3a3a3a" stroke-width="0.08" fill="#3a3a3a" text-anchor="end" textLength="11.81" lengthAdjust="spacingAndGlyphs">ENAD</text>
<text x="342.20" y="322.93" font-size="4.633" stroke="#3a3a3a" stroke-width="0.08" fill="#3a3a3a" text-anchor="end" textLength="8.42" lengthAdjust="spacingAndGlyphs">LYM</text>
<text x="342.20" y="328.86" font-size="4.633" stroke="#3a3a3a" stroke-width="0.08" fill="#3a3a3a" text-anchor="end" textLength="8.74" lengthAdjust="spacingAndGlyphs">MBL</text>
<text x="342.20" y="334.79" font-size="4.633" stroke="#3a3a3a" stroke-width="0.08" fill="#3a3a3a" text-anchor="end" textLength="12.28" lengthAdjust="spacingAndGlyphs">COAD</text>
<text x="342.20" y="340.72" font-size="4.633" stroke="#3a3a3a" stroke-width="0.08" fill="#3a3a3a" text-anchor="end" textLength="21.72" lengthAdjust="spacingAndGlyphs">OCA-FTCA</text>
<text x="342.20" y="346.65" font-size="4.633" stroke="#3a3a3a" stroke-width="0.08" fill="#3a3a3a" text-anchor="end" textLength="5.43" lengthAdjust="spacingAndGlyphs">BT</text>
<line x1="345.50" y1="18.90" x2="387.90" y2="18.90" stroke="#737779" stroke-width="1.0" />
<line x1="345.50" y1="24.83" x2="387.50" y2="24.83" stroke="#7a7d74" stroke-width="1.0" />
<line x1="345.50" y1="30.76" x2="372.80" y2="30.76" stroke="#737979" stroke-width="1.0" />
<line x1="345.50" y1="36.69" x2="370.20" y2="36.69" stroke="#737a79" stroke-width="1.0" />
<line x1="345.50" y1="42.62" x2="370.20" y2="42.62" stroke="#787d75" stroke-width="1.0" />
<line x1="345.50" y1="48.55" x2="368.60" y2="48.55" stroke="#787d75" stroke-width="1.0" />
<line x1="345.50" y1="54.48" x2="366.80" y2="54.48" stroke="#737376" stroke-width="1.0" />
<line x1="345.50" y1="60.41" x2="355.60" y2="60.41" stroke="#737a79" stroke-width="1.0" />
<line x1="345.50" y1="66.34" x2="355.20" y2="66.34" stroke="#747578" stroke-width="1.0" />
<line x1="345.50" y1="72.27" x2="354.80" y2="72.27" stroke="#747679" stroke-width="1.0" />
<line x1="345.50" y1="78.20" x2="354.80" y2="78.20" stroke="#737275" stroke-width="1.0" />
<line x1="345.50" y1="84.13" x2="353.40" y2="84.13" stroke="#7e7e72" stroke-width="1.0" />
<line x1="345.50" y1="90.06" x2="352.30" y2="90.06" stroke="#757478" stroke-width="1.0" />
<line x1="345.50" y1="95.99" x2="351.40" y2="95.99" stroke="#727274" stroke-width="1.0" />
<line x1="345.50" y1="101.92" x2="351.40" y2="101.92" stroke="#727274" stroke-width="1.0" />
<line x1="345.50" y1="107.85" x2="351.10" y2="107.85" stroke="#727274" stroke-width="1.0" />
<line x1="345.50" y1="113.78" x2="350.90" y2="113.78" stroke="#727274" stroke-width="1.0" />
<line x1="345.50" y1="119.71" x2="350.40" y2="119.71" stroke="#727274" stroke-width="1.0" />
<line x1="345.50" y1="125.64" x2="350.30" y2="125.64" stroke="#727274" stroke-width="1.0" />
<line x1="345.50" y1="131.57" x2="351.40" y2="131.57" stroke="#727274" stroke-width="1.0" />
<line x1="345.50" y1="137.50" x2="349.50" y2="137.50" stroke="#747377" stroke-width="1.0" />
<line x1="345.50" y1="143.43" x2="350.00" y2="143.43" stroke="#727274" stroke-width="1.0" />
<line x1="345.50" y1="149.36" x2="349.80" y2="149.36" stroke="#727274" stroke-width="1.0" />
<line x1="345.50" y1="155.29" x2="348.90" y2="155.29" stroke="#727274" stroke-width="1.0" />
<line x1="345.50" y1="161.22" x2="348.90" y2="161.22" stroke="#727274" stroke-width="1.0" />
<line x1="345.50" y1="167.15" x2="348.90" y2="167.15" stroke="#727274" stroke-width="1.0" />
<line x1="345.50" y1="173.08" x2="348.90" y2="173.08" stroke="#737376" stroke-width="1.0" />
<line x1="345.50" y1="179.01" x2="348.40" y2="179.01" stroke="#727274" stroke-width="1.0" />
<line x1="345.50" y1="184.94" x2="348.10" y2="184.94" stroke="#737376" stroke-width="1.0" />
<line x1="345.50" y1="190.87" x2="348.40" y2="190.87" stroke="#747378" stroke-width="1.0" />
<line x1="345.50" y1="196.80" x2="347.50" y2="196.80" stroke="#727274" stroke-width="1.0" />
<line x1="345.50" y1="202.73" x2="347.50" y2="202.73" stroke="#727274" stroke-width="1.0" />
<line x1="345.50" y1="208.66" x2="347.50" y2="208.66" stroke="#737276" stroke-width="1.0" />
<line x1="345.50" y1="214.59" x2="347.50" y2="214.59" stroke="#727274" stroke-width="1.0" />
<line x1="345.50" y1="220.52" x2="347.20" y2="220.52" stroke="#727274" stroke-width="1.0" />
<line x1="345.50" y1="226.45" x2="347.50" y2="226.45" stroke="#727274" stroke-width="1.0" />
<line x1="345.50" y1="232.38" x2="347.50" y2="232.38" stroke="#727274" stroke-width="1.0" />
<line x1="345.50" y1="238.31" x2="347.30" y2="238.31" stroke="#727274" stroke-width="1.0" />
<line x1="345.50" y1="244.24" x2="347.50" y2="244.24" stroke="#737275" stroke-width="1.0" />
<line x1="345.50" y1="250.17" x2="347.30" y2="250.17" stroke="#727274" stroke-width="1.0" />
<line x1="345.50" y1="256.10" x2="347.10" y2="256.10" stroke="#727274" stroke-width="1.0" />
<line x1="345.50" y1="262.03" x2="346.90" y2="262.03" stroke="#727274" stroke-width="1.0" />
<line x1="345.50" y1="267.96" x2="346.80" y2="267.96" stroke="#727274" stroke-width="1.0" />
<line x1="345.50" y1="273.89" x2="346.90" y2="273.89" stroke="#727274" stroke-width="1.0" />
<line x1="345.50" y1="279.82" x2="347.00" y2="279.82" stroke="#727273" stroke-width="1.0" />
<line x1="345.50" y1="285.75" x2="346.80" y2="285.75" stroke="#727274" stroke-width="1.0" />
<line x1="345.50" y1="291.68" x2="346.40" y2="291.68" stroke="#727274" stroke-width="1.0" />
<line x1="345.50" y1="297.61" x2="346.40" y2="297.61" stroke="#727274" stroke-width="1.0" />
<line x1="345.50" y1="303.54" x2="346.40" y2="303.54" stroke="#727274" stroke-width="1.0" />
<line x1="345.50" y1="309.47" x2="346.40" y2="309.47" stroke="#727274" stroke-width="1.0" />
<line x1="345.50" y1="315.40" x2="346.40" y2="315.40" stroke="#727274" stroke-width="1.0" />
<line x1="345.50" y1="321.33" x2="346.40" y2="321.33" stroke="#727274" stroke-width="1.0" />
<line x1="345.50" y1="327.26" x2="346.40" y2="327.26" stroke="#727274" stroke-width="1.0" />
<line x1="345.50" y1="333.19" x2="346.40" y2="333.19" stroke="#727274" stroke-width="1.0" />
<line x1="345.50" y1="339.12" x2="346.30" y2="339.12" stroke="#727274" stroke-width="1.0" />
<line x1="345.50" y1="345.05" x2="346.00" y2="345.05" stroke="#727274" stroke-width="1.0" />
<circle cx="387.90" cy="18.90" r="3.32" fill="#1f6e8a"/>
<circle cx="387.50" cy="24.83" r="3.32" fill="#98d03a"/>
<circle cx="372.80" cy="30.76" r="3.53" fill="#23858c"/>
<circle cx="370.20" cy="36.69" r="2.57" fill="#1f9a8a"/>
<circle cx="370.20" cy="42.62" r="2.78" fill="#7cc547"/>
<circle cx="368.60" cy="48.55" r="2.78" fill="#7cc547"/>
<circle cx="366.80" cy="54.48" r="1.93" fill="#2a1f55"/>
<circle cx="355.60" cy="60.41" r="2.68" fill="#1fa08a"/>
<circle cx="355.20" cy="66.34" r="1.82" fill="#35497e"/>
<circle cx="354.80" cy="72.27" r="2.46" fill="#39558a"/>
<circle cx="354.80" cy="78.20" r="1.28" fill="#241640"/>
<circle cx="353.40" cy="84.13" r="2.25" fill="#e2e418"/>
<circle cx="352.30" cy="90.06" r="2.35" fill="#41307c"/>
<circle cx="351.40" cy="95.99" r="1.60" fill="#171030"/>
<circle cx="351.40" cy="101.92" r="1.60" fill="#171030"/>
<circle cx="351.10" cy="107.85" r="1.60" fill="#171030"/>
<circle cx="350.90" cy="113.78" r="1.60" fill="#171030"/>
<circle cx="350.40" cy="119.71" r="1.60" fill="#171030"/>
<circle cx="350.30" cy="125.64" r="1.77" fill="#171030"/>
<circle cx="351.40" cy="131.57" r="1.07" fill="#171030"/>
<circle cx="349.50" cy="137.50" r="2.14" fill="#2e2260"/>
<circle cx="350.00" cy="143.43" r="1.28" fill="#171030"/>
<circle cx="349.80" cy="149.36" r="1.93" fill="#171030"/>
<circle cx="348.90" cy="155.29" r="1.50" fill="#171030"/>
<circle cx="348.90" cy="161.22" r="1.39" fill="#171030"/>
<circle cx="348.90" cy="167.15" r="1.39" fill="#171030"/>
<circle cx="348.90" cy="173.08" r="2.14" fill="#2a1f58"/>
<circle cx="348.40" cy="179.01" r="1.39" fill="#171030"/>
<circle cx="348.10" cy="184.94" r="1.39" fill="#2a2a50"/>
<circle cx="348.40" cy="190.87" r="2.25" fill="#3b2a70"/>
<circle cx="347.50" cy="196.80" r="1.28" fill="#171030"/>
<circle cx="347.50" cy="202.73" r="1.39" fill="#171030"/>
<circle cx="347.50" cy="208.66" r="1.93" fill="#281a50"/>
<circle cx="347.50" cy="214.59" r="1.39" fill="#171030"/>
<circle cx="347.20" cy="220.52" r="1.39" fill="#171030"/>
<circle cx="347.50" cy="226.45" r="1.39" fill="#171030"/>
<circle cx="347.50" cy="232.38" r="1.93" fill="#171030"/>
<circle cx="347.30" cy="238.31" r="1.39" fill="#171030"/>
<circle cx="347.50" cy="244.24" r="2.35" fill="#22164a"/>
<circle cx="347.30" cy="250.17" r="1.39" fill="#171030"/>
<circle cx="347.10" cy="256.10" r="1.39" fill="#171030"/>
<circle cx="346.90" cy="262.03" r="1.28" fill="#171030"/>
<circle cx="346.80" cy="267.96" r="1.28" fill="#171030"/>
<circle cx="346.90" cy="273.89" r="1.28" fill="#171030"/>
<circle cx="347.00" cy="279.82" r="2.25" fill="#140c28"/>
<circle cx="346.80" cy="285.75" r="1.39" fill="#171030"/>
<circle cx="346.40" cy="291.68" r="1.28" fill="#171030"/>
<circle cx="346.40" cy="297.61" r="1.28" fill="#171030"/>
<circle cx="346.40" cy="303.54" r="1.28" fill="#171030"/>
<circle cx="346.40" cy="309.47" r="1.28" fill="#171030"/>
<circle cx="346.40" cy="315.40" r="1.28" fill="#171030"/>
<circle cx="346.40" cy="321.33" r="1.28" fill="#171030"/>
<circle cx="346.40" cy="327.26" r="1.28" fill="#171030"/>
<circle cx="346.40" cy="333.19" r="1.28" fill="#171030"/>
<circle cx="346.30" cy="339.12" r="1.28" fill="#171030"/>
<circle cx="346.00" cy="345.05" r="1.07" fill="#171030"/>
<text x="345.50" y="353.30" font-size="4.36" stroke="#4d4d4d" stroke-width="0.08" fill="#4d4d4d" text-anchor="middle" textLength="2.22" lengthAdjust="spacingAndGlyphs">0</text>
<text x="357.10" y="353.30" font-size="4.36" stroke="#4d4d4d" stroke-width="0.08" fill="#4d4d4d" text-anchor="middle" textLength="4.45" lengthAdjust="spacingAndGlyphs">50</text>
<text x="368.50" y="353.30" font-size="4.36" stroke="#4d4d4d" stroke-width="0.08" fill="#4d4d4d" text-anchor="middle" textLength="6.67" lengthAdjust="spacingAndGlyphs">100</text>
<text x="379.60" y="353.30" font-size="4.36" stroke="#4d4d4d" stroke-width="0.08" fill="#4d4d4d" text-anchor="middle" textLength="6.67" lengthAdjust="spacingAndGlyphs">150</text>
<text x="390.50" y="353.30" font-size="4.36" stroke="#4d4d4d" stroke-width="0.08" fill="#4d4d4d" text-anchor="middle" textLength="6.67" lengthAdjust="spacingAndGlyphs">200</text>
<text x="367.30" y="358.20" font-size="4.796" stroke="#222" stroke-width="0.08" fill="#222" text-anchor="middle" textLength="15.90" lengthAdjust="spacingAndGlyphs">Patients</text>
<text x="376.00" y="148.60" font-size="4.578" stroke="#222" stroke-width="0.08" fill="#222" textLength="16.57" lengthAdjust="spacingAndGlyphs">Datasets</text>
<circle cx="380.20" cy="154.10" r="2.20" fill="#000"/>
<text x="388.70" y="155.60" font-size="4.36" stroke="#4d4d4d" stroke-width="0.08" fill="#4d4d4d" textLength="2.22" lengthAdjust="spacingAndGlyphs">4</text>
<circle cx="380.20" cy="161.20" r="2.80" fill="#000"/>
<text x="388.70" y="162.70" font-size="4.36" stroke="#4d4d4d" stroke-width="0.08" fill="#4d4d4d" textLength="2.22" lengthAdjust="spacingAndGlyphs">8</text>
<circle cx="380.20" cy="169.80" r="3.50" fill="#000"/>
<text x="388.70" y="171.30" font-size="4.36" stroke="#4d4d4d" stroke-width="0.08" fill="#4d4d4d" textLength="4.45" lengthAdjust="spacingAndGlyphs">12</text>
<text x="375.50" y="186.30" font-size="4.578" stroke="#222" stroke-width="0.08" fill="#222" textLength="16.57" lengthAdjust="spacingAndGlyphs">Cells per</text>
<text x="375.50" y="190.30" font-size="4.578" stroke="#222" stroke-width="0.08" fill="#222" textLength="15.18" lengthAdjust="spacingAndGlyphs">100,000</text>
<rect x="375.50" y="191.60" width="4.40" height="26.80" fill="url(#vir)"/>
<text x="382.60" y="195.00" font-size="4.36" stroke="#4d4d4d" stroke-width="0.08" fill="#4d4d4d" textLength="2.22" lengthAdjust="spacingAndGlyphs">5</text>
<line x1="375.50" y1="193.60" x2="376.40" y2="193.60" stroke="#fff" stroke-width="0.3" />
<line x1="379.00" y1="193.60" x2="379.90" y2="193.60" stroke="#fff" stroke-width="0.3" />
<text x="382.60" y="199.96" font-size="4.36" stroke="#4d4d4d" stroke-width="0.08" fill="#4d4d4d" textLength="2.22" lengthAdjust="spacingAndGlyphs">4</text>
<line x1="375.50" y1="198.56" x2="376.40" y2="198.56" stroke="#fff" stroke-width="0.3" />
<line x1="379.00" y1="198.56" x2="379.90" y2="198.56" stroke="#fff" stroke-width="0.3" />
<text x="382.60" y="204.92" font-size="4.36" stroke="#4d4d4d" stroke-width="0.08" fill="#4d4d4d" textLength="2.22" lengthAdjust="spacingAndGlyphs">3</text>
<line x1="375.50" y1="203.52" x2="376.40" y2="203.52" stroke="#fff" stroke-width="0.3" />
<line x1="379.00" y1="203.52" x2="379.90" y2="203.52" stroke="#fff" stroke-width="0.3" />
<text x="382.60" y="209.88" font-size="4.36" stroke="#4d4d4d" stroke-width="0.08" fill="#4d4d4d" textLength="2.22" lengthAdjust="spacingAndGlyphs">2</text>
<line x1="375.50" y1="208.48" x2="376.40" y2="208.48" stroke="#fff" stroke-width="0.3" />
<line x1="379.00" y1="208.48" x2="379.90" y2="208.48" stroke="#fff" stroke-width="0.3" />
<text x="382.60" y="214.84" font-size="4.36" stroke="#4d4d4d" stroke-width="0.08" fill="#4d4d4d" textLength="2.22" lengthAdjust="spacingAndGlyphs">1</text>
<line x1="375.50" y1="213.44" x2="376.40" y2="213.44" stroke="#fff" stroke-width="0.3" />
<line x1="379.00" y1="213.44" x2="379.90" y2="213.44" stroke="#fff" stroke-width="0.3" />
<text x="382.60" y="219.80" font-size="4.36" stroke="#4d4d4d" stroke-width="0.08" fill="#4d4d4d" textLength="2.22" lengthAdjust="spacingAndGlyphs">0</text>
<line x1="375.50" y1="218.40" x2="376.40" y2="218.40" stroke="#fff" stroke-width="0.3" />
<line x1="379.00" y1="218.40" x2="379.90" y2="218.40" stroke="#fff" stroke-width="0.3" />
<line x1="470.00" y1="15.80" x2="470.00" y2="115.48" stroke="#ebebeb" stroke-width="0.45" />
<line x1="485.00" y1="15.80" x2="485.00" y2="115.48" stroke="#ebebeb" stroke-width="0.45" />
<line x1="500.20" y1="15.80" x2="500.20" y2="115.48" stroke="#ebebeb" stroke-width="0.45" />
<line x1="477.50" y1="15.80" x2="477.50" y2="115.48" stroke="#f5f5f5" stroke-width="0.35" />
<line x1="492.60" y1="15.80" x2="492.60" y2="115.48" stroke="#f5f5f5" stroke-width="0.35" />
<text x="480.60" y="12.60" font-size="5.0" stroke="#111" stroke-width="0.08" fill="#111" font-weight="bold" textLength="21.40" lengthAdjust="spacingAndGlyphs">Treatment</text>
<text x="465.50" y="20.90" font-size="4.633" stroke="#3a3a3a" stroke-width="0.08" fill="#3a3a3a" text-anchor="end" textLength="17.72" lengthAdjust="spacingAndGlyphs">Unknown</text>
<text x="465.50" y="27.52" font-size="4.633" stroke="#3a3a3a" stroke-width="0.08" fill="#3a3a3a" text-anchor="end" textLength="29.53" lengthAdjust="spacingAndGlyphs">Immunotherapy</text>
<text x="465.50" y="34.14" font-size="4.633" stroke="#3a3a3a" stroke-width="0.08" fill="#3a3a3a" text-anchor="end" textLength="10.87" lengthAdjust="spacingAndGlyphs">Naive</text>
<text x="465.50" y="40.76" font-size="4.633" stroke="#3a3a3a" stroke-width="0.08" fill="#3a3a3a" text-anchor="end" textLength="26.93" lengthAdjust="spacingAndGlyphs">Not applicable</text>
<text x="465.50" y="47.38" font-size="4.633" stroke="#3a3a3a" stroke-width="0.08" fill="#3a3a3a" text-anchor="end" textLength="59.22" lengthAdjust="spacingAndGlyphs">Chemotherapy, immunotherapy</text>
<text x="465.50" y="54.00" font-size="4.633" stroke="#3a3a3a" stroke-width="0.08" fill="#3a3a3a" text-anchor="end" textLength="16.54" lengthAdjust="spacingAndGlyphs">Targeted</text>
<text x="465.50" y="60.62" font-size="4.633" stroke="#3a3a3a" stroke-width="0.08" fill="#3a3a3a" text-anchor="end" textLength="27.88" lengthAdjust="spacingAndGlyphs">Chemotherapy</text>
<text x="465.50" y="67.24" font-size="4.633" stroke="#3a3a3a" stroke-width="0.08" fill="#3a3a3a" text-anchor="end" textLength="56.38" lengthAdjust="spacingAndGlyphs">Surgery, naive, chemotherapy</text>
<text x="465.50" y="73.86" font-size="4.633" stroke="#3a3a3a" stroke-width="0.08" fill="#3a3a3a" text-anchor="end" textLength="46.94" lengthAdjust="spacingAndGlyphs">Chemotherapy, unknown</text>
<text x="465.50" y="80.48" font-size="4.633" stroke="#3a3a3a" stroke-width="0.08" fill="#3a3a3a" text-anchor="end" textLength="11.34" lengthAdjust="spacingAndGlyphs">Mixed</text>
<text x="465.50" y="87.10" font-size="4.633" stroke="#3a3a3a" stroke-width="0.08" fill="#3a3a3a" text-anchor="end" textLength="54.26" lengthAdjust="spacingAndGlyphs">Radiotherapy, chemotherapy</text>
<text x="465.50" y="93.72" font-size="4.633" stroke="#3a3a3a" stroke-width="0.08" fill="#3a3a3a" text-anchor="end" textLength="45.52" lengthAdjust="spacingAndGlyphs">Chemotherapy, targeted</text>
<text x="465.50" y="100.34" font-size="4.633" stroke="#3a3a3a" stroke-width="0.08" fill="#3a3a3a" text-anchor="end" textLength="71.42" lengthAdjust="spacingAndGlyphs">Chemotherapy, immunotherapy, naive</text>
<text x="465.50" y="106.96" font-size="4.633" stroke="#3a3a3a" stroke-width="0.08" fill="#3a3a3a" text-anchor="end" textLength="14.88" lengthAdjust="spacingAndGlyphs">Surgery</text>
<text x="465.50" y="113.58" font-size="4.633" stroke="#3a3a3a" stroke-width="0.08" fill="#3a3a3a" text-anchor="end" textLength="43.86" lengthAdjust="spacingAndGlyphs">Surgery, chemotherapy</text>
<line x1="469.80" y1="19.30" x2="512.30" y2="19.30" stroke="#807e73" stroke-width="1.0" />
<line x1="469.80" y1="25.92" x2="503.50" y2="25.92" stroke="#737a78" stroke-width="1.0" />
<line x1="469.80" y1="32.54" x2="491.40" y2="32.54" stroke="#737b78" stroke-width="1.0" />
<line x1="469.80" y1="39.16" x2="477.00" y2="39.16" stroke="#737275" stroke-width="1.0" />
<line x1="469.80" y1="45.78" x2="474.20" y2="45.78" stroke="#737778" stroke-width="1.0" />
<line x1="469.80" y1="52.40" x2="472.70" y2="52.40" stroke="#727273" stroke-width="1.0" />
<line x1="469.80" y1="59.02" x2="471.20" y2="59.02" stroke="#727273" stroke-width="1.0" />
<line x1="469.80" y1="65.64" x2="470.60" y2="65.64" stroke="#727273" stroke-width="1.0" />
<line x1="469.80" y1="72.26" x2="470.20" y2="72.26" stroke="#727273" stroke-width="1.0" />
<line x1="469.80" y1="78.88" x2="470.20" y2="78.88" stroke="#727273" stroke-width="1.0" />
<line x1="469.80" y1="85.50" x2="470.10" y2="85.50" stroke="#727273" stroke-width="1.0" />
<line x1="469.80" y1="92.12" x2="470.10" y2="92.12" stroke="#727273" stroke-width="1.0" />
<line x1="469.80" y1="98.74" x2="470.00" y2="98.74" stroke="#727273" stroke-width="1.0" />
<line x1="469.80" y1="105.36" x2="470.00" y2="105.36" stroke="#727273" stroke-width="1.0" />
<line x1="469.80" y1="111.98" x2="470.00" y2="111.98" stroke="#727273" stroke-width="1.0" />
<circle cx="512.30" cy="19.30" r="3.32" fill="#f6e422"/>
<circle cx="503.50" cy="25.92" r="2.46" fill="#22a07e"/>
<circle cx="491.40" cy="32.54" r="2.46" fill="#23a27a"/>
<circle cx="477.00" cy="39.16" r="2.14" fill="#2a1a4e"/>
<circle cx="474.20" cy="45.78" r="1.28" fill="#2b6f80"/>
<circle cx="472.70" cy="52.40" r="1.60" fill="#161028"/>
<circle cx="471.20" cy="59.02" r="1.60" fill="#161028"/>
<circle cx="470.60" cy="65.64" r="1.39" fill="#161028"/>
<circle cx="470.20" cy="72.26" r="1.18" fill="#161028"/>
<circle cx="470.20" cy="78.88" r="1.18" fill="#161028"/>
<circle cx="470.10" cy="85.50" r="1.18" fill="#161028"/>
<circle cx="470.10" cy="92.12" r="1.18" fill="#161028"/>
<circle cx="470.00" cy="98.74" r="1.18" fill="#161028"/>
<circle cx="470.00" cy="105.36" r="1.18" fill="#161028"/>
<circle cx="470.00" cy="111.98" r="1.18" fill="#161028"/>
<text x="470.00" y="120.60" font-size="4.36" stroke="#4d4d4d" stroke-width="0.08" fill="#4d4d4d" text-anchor="middle" textLength="2.22" lengthAdjust="spacingAndGlyphs">0</text>
<text x="485.00" y="120.60" font-size="4.36" stroke="#4d4d4d" stroke-width="0.08" fill="#4d4d4d" text-anchor="middle" textLength="6.67" lengthAdjust="spacingAndGlyphs">200</text>
<text x="500.20" y="120.60" font-size="4.36" stroke="#4d4d4d" stroke-width="0.08" fill="#4d4d4d" text-anchor="middle" textLength="6.67" lengthAdjust="spacingAndGlyphs">400</text>
<text x="502.20" y="38.90" font-size="4.578" stroke="#222" stroke-width="0.08" fill="#222" textLength="16.57" lengthAdjust="spacingAndGlyphs">Cells per</text>
<text x="502.20" y="42.80" font-size="4.578" stroke="#222" stroke-width="0.08" fill="#222" textLength="15.18" lengthAdjust="spacingAndGlyphs">100,000</text>
<rect x="502.20" y="46.40" width="3.80" height="14.10" fill="url(#vir)"/>
<text x="508.60" y="50.70" font-size="4.36" stroke="#4d4d4d" stroke-width="0.08" fill="#4d4d4d" textLength="4.45" lengthAdjust="spacingAndGlyphs">12</text>
<text x="508.60" y="55.20" font-size="4.36" stroke="#4d4d4d" stroke-width="0.08" fill="#4d4d4d" textLength="2.22" lengthAdjust="spacingAndGlyphs">8</text>
<text x="508.60" y="59.40" font-size="4.36" stroke="#4d4d4d" stroke-width="0.08" fill="#4d4d4d" textLength="2.22" lengthAdjust="spacingAndGlyphs">4</text>
<text x="502.20" y="73.00" font-size="4.578" stroke="#222" stroke-width="0.08" fill="#222" textLength="17.74" lengthAdjust="spacingAndGlyphs">Data sets</text>
<circle cx="505.50" cy="78.30" r="2.00" fill="#000"/>
<text x="512.00" y="79.70" font-size="4.36" stroke="#4d4d4d" stroke-width="0.08" fill="#4d4d4d" textLength="4.45" lengthAdjust="spacingAndGlyphs">20</text>
<circle cx="505.50" cy="85.10" r="2.40" fill="#000"/>
<text x="512.00" y="86.50" font-size="4.36" stroke="#4d4d4d" stroke-width="0.08" fill="#4d4d4d" textLength="4.45" lengthAdjust="spacingAndGlyphs">40</text>
<circle cx="505.50" cy="92.20" r="3.00" fill="#000"/>
<text x="512.00" y="93.60" font-size="4.36" stroke="#4d4d4d" stroke-width="0.08" fill="#4d4d4d" textLength="4.45" lengthAdjust="spacingAndGlyphs">60</text>
<line x1="469.60" y1="131.00" x2="469.60" y2="232.52" stroke="#ebebeb" stroke-width="0.45" />
<line x1="479.90" y1="131.00" x2="479.90" y2="232.52" stroke="#ebebeb" stroke-width="0.45" />
<line x1="489.60" y1="131.00" x2="489.60" y2="232.52" stroke="#ebebeb" stroke-width="0.45" />
<line x1="498.90" y1="131.00" x2="498.90" y2="232.52" stroke="#ebebeb" stroke-width="0.45" />
<line x1="507.60" y1="131.00" x2="507.60" y2="232.52" stroke="#ebebeb" stroke-width="0.45" />
<line x1="474.75" y1="131.00" x2="474.75" y2="232.52" stroke="#f5f5f5" stroke-width="0.35" />
<line x1="484.75" y1="131.00" x2="484.75" y2="232.52" stroke="#f5f5f5" stroke-width="0.35" />
<line x1="494.25" y1="131.00" x2="494.25" y2="232.52" stroke="#f5f5f5" stroke-width="0.35" />
<line x1="503.25" y1="131.00" x2="503.25" y2="232.52" stroke="#f5f5f5" stroke-width="0.35" />
<text x="479.30" y="128.60" font-size="5.0" stroke="#111" stroke-width="0.08" fill="#111" font-weight="bold" textLength="24.30" lengthAdjust="spacingAndGlyphs">Technology</text>
<text x="465.50" y="136.10" font-size="4.633" stroke="#3a3a3a" stroke-width="0.08" fill="#3a3a3a" text-anchor="end" textLength="13.70" lengthAdjust="spacingAndGlyphs">10x, v2</text>
<text x="465.50" y="141.66" font-size="4.633" stroke="#3a3a3a" stroke-width="0.08" fill="#3a3a3a" text-anchor="end" textLength="21.26" lengthAdjust="spacingAndGlyphs">smart-seq2</text>
<text x="465.50" y="147.22" font-size="4.633" stroke="#3a3a3a" stroke-width="0.08" fill="#3a3a3a" text-anchor="end" textLength="16.53" lengthAdjust="spacingAndGlyphs">10x, v(3)</text>
<text x="465.50" y="152.78" font-size="4.633" stroke="#3a3a3a" stroke-width="0.08" fill="#3a3a3a" text-anchor="end" textLength="6.85" lengthAdjust="spacingAndGlyphs">10x</text>
<text x="465.50" y="158.34" font-size="4.633" stroke="#3a3a3a" stroke-width="0.08" fill="#3a3a3a" text-anchor="end" textLength="13.70" lengthAdjust="spacingAndGlyphs">10x, v3</text>
<text x="465.50" y="163.90" font-size="4.633" stroke="#3a3a3a" stroke-width="0.08" fill="#3a3a3a" text-anchor="end" textLength="17.71" lengthAdjust="spacingAndGlyphs">mars-seq</text>
<text x="465.50" y="169.46" font-size="4.633" stroke="#3a3a3a" stroke-width="0.08" fill="#3a3a3a" text-anchor="end" textLength="20.07" lengthAdjust="spacingAndGlyphs">c1.smarter</text>
<text x="465.50" y="175.02" font-size="4.633" stroke="#3a3a3a" stroke-width="0.08" fill="#3a3a3a" text-anchor="end" textLength="15.59" lengthAdjust="spacingAndGlyphs">seq-well</text>
<text x="465.50" y="180.58" font-size="4.633" stroke="#3a3a3a" stroke-width="0.08" fill="#3a3a3a" text-anchor="end" textLength="30.47" lengthAdjust="spacingAndGlyphs">10x, smart-seq2</text>
<text x="465.50" y="186.14" font-size="4.633" stroke="#3a3a3a" stroke-width="0.08" fill="#3a3a3a" text-anchor="end" textLength="17.25" lengthAdjust="spacingAndGlyphs">10x, v2/3</text>
<text x="465.50" y="191.70" font-size="4.633" stroke="#3a3a3a" stroke-width="0.08" fill="#3a3a3a" text-anchor="end" textLength="11.81" lengthAdjust="spacingAndGlyphs">indrop</text>
<text x="465.50" y="197.26" font-size="4.633" stroke="#3a3a3a" stroke-width="0.08" fill="#3a3a3a" text-anchor="end" textLength="13.70" lengthAdjust="spacingAndGlyphs">10x, v1</text>
<text x="465.50" y="202.82" font-size="4.633" stroke="#3a3a3a" stroke-width="0.08" fill="#3a3a3a" text-anchor="end" textLength="30.24" lengthAdjust="spacingAndGlyphs">10x v2, 10x v(3)</text>
<text x="465.50" y="208.38" font-size="4.633" stroke="#3a3a3a" stroke-width="0.08" fill="#3a3a3a" text-anchor="end" textLength="17.71" lengthAdjust="spacingAndGlyphs">microwell</text>
<text x="465.50" y="213.94" font-size="4.633" stroke="#3a3a3a" stroke-width="0.08" fill="#3a3a3a" text-anchor="end" textLength="16.54" lengthAdjust="spacingAndGlyphs">nanogrid</text>
<text x="465.50" y="219.50" font-size="4.633" stroke="#3a3a3a" stroke-width="0.08" fill="#3a3a3a" text-anchor="end" textLength="15.36" lengthAdjust="spacingAndGlyphs">dropseq</text>
<text x="465.50" y="225.06" font-size="4.633" stroke="#3a3a3a" stroke-width="0.08" fill="#3a3a3a" text-anchor="end" textLength="16.77" lengthAdjust="spacingAndGlyphs">drop-seq</text>
<text x="465.50" y="230.62" font-size="4.633" stroke="#3a3a3a" stroke-width="0.08" fill="#3a3a3a" text-anchor="end" textLength="38.98" lengthAdjust="spacingAndGlyphs">smart-seq2, adapted</text>
<line x1="469.60" y1="134.50" x2="512.80" y2="134.50" stroke="#7f7f73" stroke-width="1.0" />
<line x1="469.60" y1="140.06" x2="502.40" y2="140.06" stroke="#757378" stroke-width="1.0" />
<line x1="469.60" y1="145.62" x2="493.70" y2="145.62" stroke="#737979" stroke-width="1.0" />
<line x1="469.60" y1="151.18" x2="486.80" y2="151.18" stroke="#737a79" stroke-width="1.0" />
<line x1="469.60" y1="156.74" x2="483.00" y2="156.74" stroke="#737979" stroke-width="1.0" />
<line x1="469.60" y1="162.30" x2="480.60" y2="162.30" stroke="#747376" stroke-width="1.0" />
<line x1="469.60" y1="167.86" x2="472.90" y2="167.86" stroke="#737275" stroke-width="1.0" />
<line x1="469.60" y1="173.42" x2="471.30" y2="173.42" stroke="#727273" stroke-width="1.0" />
<line x1="469.60" y1="178.98" x2="470.60" y2="178.98" stroke="#727273" stroke-width="1.0" />
<line x1="469.60" y1="184.54" x2="470.60" y2="184.54" stroke="#727273" stroke-width="1.0" />
<line x1="469.60" y1="190.10" x2="470.60" y2="190.10" stroke="#727273" stroke-width="1.0" />
<line x1="469.60" y1="195.66" x2="470.60" y2="195.66" stroke="#727273" stroke-width="1.0" />
<line x1="469.60" y1="201.22" x2="470.50" y2="201.22" stroke="#727273" stroke-width="1.0" />
<line x1="469.60" y1="206.78" x2="470.50" y2="206.78" stroke="#727273" stroke-width="1.0" />
<line x1="469.60" y1="212.34" x2="470.50" y2="212.34" stroke="#727273" stroke-width="1.0" />
<line x1="469.60" y1="217.90" x2="470.50" y2="217.90" stroke="#727273" stroke-width="1.0" />
<line x1="469.60" y1="223.46" x2="470.50" y2="223.46" stroke="#727273" stroke-width="1.0" />
<line x1="469.60" y1="229.02" x2="470.40" y2="229.02" stroke="#727273" stroke-width="1.0" />
<circle cx="512.80" cy="134.50" r="3.32" fill="#f3e51e"/>
<circle cx="502.40" cy="140.06" r="2.89" fill="#46287a"/>
<circle cx="493.70" cy="145.62" r="2.57" fill="#1f8f8a"/>
<circle cx="486.80" cy="151.18" r="2.46" fill="#23928b"/>
<circle cx="483.00" cy="156.74" r="2.25" fill="#218f8b"/>
<circle cx="480.60" cy="162.30" r="1.82" fill="#34245e"/>
<circle cx="472.90" cy="167.86" r="2.14" fill="#2a1a4c"/>
<circle cx="471.30" cy="173.42" r="1.60" fill="#161028"/>
<circle cx="470.60" cy="178.98" r="1.28" fill="#161028"/>
<circle cx="470.60" cy="184.54" r="1.28" fill="#161028"/>
<circle cx="470.60" cy="190.10" r="1.50" fill="#161028"/>
<circle cx="470.60" cy="195.66" r="1.50" fill="#161028"/>
<circle cx="470.50" cy="201.22" r="1.18" fill="#161028"/>
<circle cx="470.50" cy="206.78" r="1.18" fill="#161028"/>
<circle cx="470.50" cy="212.34" r="1.18" fill="#161028"/>
<circle cx="470.50" cy="217.90" r="1.39" fill="#161028"/>
<circle cx="470.50" cy="223.46" r="1.39" fill="#161028"/>
<circle cx="470.40" cy="229.02" r="1.18" fill="#161028"/>
<text x="469.60" y="236.00" font-size="4.36" stroke="#4d4d4d" stroke-width="0.08" fill="#4d4d4d" text-anchor="middle" textLength="2.22" lengthAdjust="spacingAndGlyphs">0</text>
<text x="479.90" y="236.00" font-size="4.36" stroke="#4d4d4d" stroke-width="0.08" fill="#4d4d4d" text-anchor="middle" textLength="6.67" lengthAdjust="spacingAndGlyphs">100</text>
<text x="489.60" y="236.00" font-size="4.36" stroke="#4d4d4d" stroke-width="0.08" fill="#4d4d4d" text-anchor="middle" textLength="6.67" lengthAdjust="spacingAndGlyphs">200</text>
<text x="498.90" y="236.00" font-size="4.36" stroke="#4d4d4d" stroke-width="0.08" fill="#4d4d4d" text-anchor="middle" textLength="6.67" lengthAdjust="spacingAndGlyphs">300</text>
<text x="507.60" y="236.00" font-size="4.36" stroke="#4d4d4d" stroke-width="0.08" fill="#4d4d4d" text-anchor="middle" textLength="6.67" lengthAdjust="spacingAndGlyphs">400</text>
<text x="501.90" y="155.20" font-size="4.578" stroke="#222" stroke-width="0.08" fill="#222" textLength="17.74" lengthAdjust="spacingAndGlyphs">Data sets</text>
<circle cx="505.80" cy="161.30" r="1.70" fill="#000"/>
<text x="511.50" y="162.70" font-size="4.36" stroke="#4d4d4d" stroke-width="0.08" fill="#4d4d4d" textLength="4.45" lengthAdjust="spacingAndGlyphs">10</text>
<circle cx="505.80" cy="167.70" r="2.10" fill="#000"/>
<text x="511.50" y="169.10" font-size="4.36" stroke="#4d4d4d" stroke-width="0.08" fill="#4d4d4d" textLength="4.45" lengthAdjust="spacingAndGlyphs">20</text>
<circle cx="505.80" cy="174.20" r="2.70" fill="#000"/>
<text x="511.50" y="175.60" font-size="4.36" stroke="#4d4d4d" stroke-width="0.08" fill="#4d4d4d" textLength="4.45" lengthAdjust="spacingAndGlyphs">30</text>
<text x="501.50" y="187.80" font-size="4.578" stroke="#222" stroke-width="0.08" fill="#222" textLength="16.57" lengthAdjust="spacingAndGlyphs">Cells per</text>
<text x="501.50" y="191.90" font-size="4.578" stroke="#222" stroke-width="0.08" fill="#222" textLength="15.18" lengthAdjust="spacingAndGlyphs">100,000</text>
<rect x="501.50" y="195.40" width="4.30" height="15.90" fill="url(#vir)"/>
<text x="507.80" y="198.40" font-size="4.36" stroke="#4d4d4d" stroke-width="0.08" fill="#4d4d4d" textLength="4.45" lengthAdjust="spacingAndGlyphs">15</text>
<text x="507.80" y="203.10" font-size="4.36" stroke="#4d4d4d" stroke-width="0.08" fill="#4d4d4d" textLength="4.45" lengthAdjust="spacingAndGlyphs">10</text>
<text x="507.80" y="207.90" font-size="4.36" stroke="#4d4d4d" stroke-width="0.08" fill="#4d4d4d" textLength="2.22" lengthAdjust="spacingAndGlyphs">5</text>
<text x="507.80" y="212.70" font-size="4.36" stroke="#4d4d4d" stroke-width="0.08" fill="#4d4d4d" textLength="2.22" lengthAdjust="spacingAndGlyphs">0</text>
<line x1="469.80" y1="247.60" x2="469.80" y2="348.90" stroke="#ebebeb" stroke-width="0.45" />
<line x1="483.60" y1="247.60" x2="483.60" y2="348.90" stroke="#ebebeb" stroke-width="0.45" />
<line x1="497.80" y1="247.60" x2="497.80" y2="348.90" stroke="#ebebeb" stroke-width="0.45" />
<line x1="512.20" y1="247.60" x2="512.20" y2="348.90" stroke="#ebebeb" stroke-width="0.45" />
<line x1="476.70" y1="247.60" x2="476.70" y2="348.90" stroke="#f5f5f5" stroke-width="0.35" />
<line x1="490.70" y1="247.60" x2="490.70" y2="348.90" stroke="#f5f5f5" stroke-width="0.35" />
<line x1="505.00" y1="247.60" x2="505.00" y2="348.90" stroke="#f5f5f5" stroke-width="0.35" />
<text x="469.40" y="245.20" font-size="5.0" stroke="#111" stroke-width="0.08" fill="#111" font-weight="bold" textLength="44.20" lengthAdjust="spacingAndGlyphs">Cell type enrichment</text>
<text x="465.50" y="252.70" font-size="4.633" stroke="#3a3a3a" stroke-width="0.08" fill="#3a3a3a" text-anchor="end" textLength="17.96" lengthAdjust="spacingAndGlyphs">Unbiased</text>
<text x="465.50" y="257.42" font-size="4.633" stroke="#3a3a3a" stroke-width="0.08" fill="#3a3a3a" text-anchor="end" textLength="15.35" lengthAdjust="spacingAndGlyphs">Immune</text>
<text x="465.50" y="262.13" font-size="4.633" stroke="#3a3a3a" stroke-width="0.08" fill="#3a3a3a" text-anchor="end" textLength="2.60" lengthAdjust="spacingAndGlyphs">T</text>
<text x="465.50" y="266.85" font-size="4.633" stroke="#3a3a3a" stroke-width="0.08" fill="#3a3a3a" text-anchor="end" textLength="14.65" lengthAdjust="spacingAndGlyphs">Myeloid</text>
<text x="465.50" y="271.56" font-size="4.633" stroke="#3a3a3a" stroke-width="0.08" fill="#3a3a3a" text-anchor="end" textLength="43.11" lengthAdjust="spacingAndGlyphs">Immune, Non−immune</text>
<text x="465.50" y="276.28" font-size="4.633" stroke="#3a3a3a" stroke-width="0.08" fill="#3a3a3a" text-anchor="end" textLength="14.17" lengthAdjust="spacingAndGlyphs">Plasma</text>
<text x="465.50" y="280.99" font-size="4.633" stroke="#3a3a3a" stroke-width="0.08" fill="#3a3a3a" text-anchor="end" textLength="25.40" lengthAdjust="spacingAndGlyphs">Non−immune</text>
<text x="465.50" y="285.71" font-size="4.633" stroke="#3a3a3a" stroke-width="0.08" fill="#3a3a3a" text-anchor="end" textLength="16.77" lengthAdjust="spacingAndGlyphs">Dendritic</text>
<text x="465.50" y="290.42" font-size="4.633" stroke="#3a3a3a" stroke-width="0.08" fill="#3a3a3a" text-anchor="end" textLength="47.99" lengthAdjust="spacingAndGlyphs">Immune, Non−immune, T</text>
<text x="465.50" y="295.13" font-size="4.633" stroke="#3a3a3a" stroke-width="0.08" fill="#3a3a3a" text-anchor="end" textLength="17.25" lengthAdjust="spacingAndGlyphs">Epithelial</text>
<text x="465.50" y="299.85" font-size="4.633" stroke="#3a3a3a" stroke-width="0.08" fill="#3a3a3a" text-anchor="end" textLength="13.00" lengthAdjust="spacingAndGlyphs">Biased</text>
<text x="465.50" y="304.56" font-size="4.633" stroke="#3a3a3a" stroke-width="0.08" fill="#3a3a3a" text-anchor="end" textLength="62.72" lengthAdjust="spacingAndGlyphs">Immune, Non−immune, Epithelial</text>
<text x="465.50" y="309.28" font-size="4.633" stroke="#3a3a3a" stroke-width="0.08" fill="#3a3a3a" text-anchor="end" textLength="10.79" lengthAdjust="spacingAndGlyphs">NK, T</text>
<text x="465.50" y="314.00" font-size="4.633" stroke="#3a3a3a" stroke-width="0.08" fill="#3a3a3a" text-anchor="end" textLength="32.05" lengthAdjust="spacingAndGlyphs">In Vitro Selection</text>
<text x="465.50" y="318.71" font-size="4.633" stroke="#3a3a3a" stroke-width="0.08" fill="#3a3a3a" text-anchor="end" textLength="21.03" lengthAdjust="spacingAndGlyphs">Endothelial</text>
<text x="465.50" y="323.43" font-size="4.633" stroke="#3a3a3a" stroke-width="0.08" fill="#3a3a3a" text-anchor="end" textLength="20.23" lengthAdjust="spacingAndGlyphs">Immune, T</text>
<text x="465.50" y="328.14" font-size="4.633" stroke="#3a3a3a" stroke-width="0.08" fill="#3a3a3a" text-anchor="end" textLength="5.90" lengthAdjust="spacingAndGlyphs">NK</text>
<text x="465.50" y="332.86" font-size="4.633" stroke="#3a3a3a" stroke-width="0.08" fill="#3a3a3a" text-anchor="end" textLength="15.39" lengthAdjust="spacingAndGlyphs">CD8⁺ T</text>
<text x="465.50" y="337.57" font-size="4.633" stroke="#3a3a3a" stroke-width="0.08" fill="#3a3a3a" text-anchor="end" textLength="15.39" lengthAdjust="spacingAndGlyphs">CD4⁺ T</text>
<text x="465.50" y="342.29" font-size="4.633" stroke="#3a3a3a" stroke-width="0.08" fill="#3a3a3a" text-anchor="end" textLength="2.83" lengthAdjust="spacingAndGlyphs">B</text>
<text x="465.50" y="347.00" font-size="4.633" stroke="#3a3a3a" stroke-width="0.08" fill="#3a3a3a" text-anchor="end" textLength="18.66" lengthAdjust="spacingAndGlyphs">Fibroblast</text>
<line x1="469.40" y1="251.10" x2="512.70" y2="251.10" stroke="#807f73" stroke-width="1.0" />
<line x1="469.40" y1="255.81" x2="494.90" y2="255.81" stroke="#767d76" stroke-width="1.0" />
<line x1="469.40" y1="260.53" x2="482.60" y2="260.53" stroke="#737478" stroke-width="1.0" />
<line x1="469.40" y1="265.25" x2="479.70" y2="265.25" stroke="#737375" stroke-width="1.0" />
<line x1="469.40" y1="269.96" x2="476.00" y2="269.96" stroke="#727275" stroke-width="1.0" />
<line x1="469.40" y1="274.68" x2="471.20" y2="274.68" stroke="#727273" stroke-width="1.0" />
<line x1="469.40" y1="279.39" x2="471.00" y2="279.39" stroke="#727273" stroke-width="1.0" />
<line x1="469.40" y1="284.11" x2="470.60" y2="284.11" stroke="#727273" stroke-width="1.0" />
<line x1="469.40" y1="288.82" x2="470.60" y2="288.82" stroke="#727273" stroke-width="1.0" />
<line x1="469.40" y1="293.53" x2="471.00" y2="293.53" stroke="#727273" stroke-width="1.0" />
<line x1="469.40" y1="298.25" x2="470.20" y2="298.25" stroke="#727273" stroke-width="1.0" />
<line x1="469.40" y1="302.96" x2="470.20" y2="302.96" stroke="#727273" stroke-width="1.0" />
<line x1="469.40" y1="307.68" x2="470.10" y2="307.68" stroke="#727273" stroke-width="1.0" />
<line x1="469.40" y1="312.39" x2="470.10" y2="312.39" stroke="#727273" stroke-width="1.0" />
<line x1="469.40" y1="317.11" x2="470.00" y2="317.11" stroke="#727273" stroke-width="1.0" />
<line x1="469.40" y1="321.82" x2="470.00" y2="321.82" stroke="#727273" stroke-width="1.0" />
<line x1="469.40" y1="326.54" x2="470.00" y2="326.54" stroke="#727273" stroke-width="1.0" />
<line x1="469.40" y1="331.25" x2="470.00" y2="331.25" stroke="#727273" stroke-width="1.0" />
<line x1="469.40" y1="335.97" x2="470.00" y2="335.97" stroke="#727273" stroke-width="1.0" />
<line x1="469.40" y1="340.69" x2="470.00" y2="340.69" stroke="#727273" stroke-width="1.0" />
<line x1="469.40" y1="345.40" x2="469.90" y2="345.40" stroke="#727273" stroke-width="1.0" />
<circle cx="512.70" cy="251.10" r="3.32" fill="#f5e51f"/>
<circle cx="494.90" cy="255.81" r="2.57" fill="#5ec55e"/>
<circle cx="482.60" cy="260.53" r="2.03" fill="#2a3d7a"/>
<circle cx="479.70" cy="265.25" r="2.25" fill="#1f1d4c"/>
<circle cx="476.00" cy="269.96" r="1.71" fill="#1c1540"/>
<circle cx="471.20" cy="274.68" r="1.18" fill="#161028"/>
<circle cx="471.00" cy="279.39" r="1.60" fill="#161028"/>
<circle cx="470.60" cy="284.11" r="1.07" fill="#161028"/>
<circle cx="470.60" cy="288.82" r="1.28" fill="#161028"/>
<circle cx="471.00" cy="293.53" r="2.14" fill="#161028"/>
<circle cx="470.20" cy="298.25" r="1.28" fill="#161028"/>
<circle cx="470.20" cy="302.96" r="1.28" fill="#161028"/>
<circle cx="470.10" cy="307.68" r="1.28" fill="#161028"/>
<circle cx="470.10" cy="312.39" r="1.50" fill="#161028"/>
<circle cx="470.00" cy="317.11" r="1.28" fill="#161028"/>
<circle cx="470.00" cy="321.82" r="1.28" fill="#161028"/>
<circle cx="470.00" cy="326.54" r="1.50" fill="#161028"/>
<circle cx="470.00" cy="331.25" r="1.28" fill="#161028"/>
<circle cx="470.00" cy="335.97" r="1.28" fill="#161028"/>
<circle cx="470.00" cy="340.69" r="1.28" fill="#161028"/>
<circle cx="469.90" cy="345.40" r="1.28" fill="#161028"/>
<text x="469.80" y="353.30" font-size="4.36" stroke="#4d4d4d" stroke-width="0.08" fill="#4d4d4d" text-anchor="middle" textLength="2.22" lengthAdjust="spacingAndGlyphs">0</text>
<text x="483.60" y="353.30" font-size="4.36" stroke="#4d4d4d" stroke-width="0.08" fill="#4d4d4d" text-anchor="middle" textLength="6.67" lengthAdjust="spacingAndGlyphs">200</text>
<text x="497.80" y="353.30" font-size="4.36" stroke="#4d4d4d" stroke-width="0.08" fill="#4d4d4d" text-anchor="middle" textLength="6.67" lengthAdjust="spacingAndGlyphs">400</text>
<text x="512.20" y="353.30" font-size="4.36" stroke="#4d4d4d" stroke-width="0.08" fill="#4d4d4d" text-anchor="middle" textLength="6.67" lengthAdjust="spacingAndGlyphs">600</text>
<text x="491.20" y="358.60" font-size="4.796" stroke="#222" stroke-width="0.08" fill="#222" text-anchor="middle" textLength="15.90" lengthAdjust="spacingAndGlyphs">Patients</text>
<text x="502.80" y="266.40" font-size="4.578" stroke="#222" stroke-width="0.08" fill="#222" textLength="16.57" lengthAdjust="spacingAndGlyphs">Cells per</text>
<text x="502.80" y="270.60" font-size="4.578" stroke="#222" stroke-width="0.08" fill="#222" textLength="15.18" lengthAdjust="spacingAndGlyphs">100,000</text>
<rect x="502.50" y="272.70" width="4.40" height="26.80" fill="url(#vir)"/>
<text x="509.00" y="275.60" font-size="4.36" stroke="#4d4d4d" stroke-width="0.08" fill="#4d4d4d" textLength="4.45" lengthAdjust="spacingAndGlyphs">20</text>
<text x="509.00" y="281.60" font-size="4.36" stroke="#4d4d4d" stroke-width="0.08" fill="#4d4d4d" textLength="4.45" lengthAdjust="spacingAndGlyphs">15</text>
<text x="509.00" y="287.80" font-size="4.36" stroke="#4d4d4d" stroke-width="0.08" fill="#4d4d4d" textLength="4.45" lengthAdjust="spacingAndGlyphs">10</text>
<text x="509.00" y="294.00" font-size="4.36" stroke="#4d4d4d" stroke-width="0.08" fill="#4d4d4d" textLength="2.22" lengthAdjust="spacingAndGlyphs">5</text>
<text x="509.00" y="300.20" font-size="4.36" stroke="#4d4d4d" stroke-width="0.08" fill="#4d4d4d" textLength="2.22" lengthAdjust="spacingAndGlyphs">0</text>
<text x="502.90" y="310.60" font-size="4.578" stroke="#222" stroke-width="0.08" fill="#222" textLength="16.57" lengthAdjust="spacingAndGlyphs">Datasets</text>
<circle cx="506.60" cy="316.10" r="2.10" fill="#000"/>
<text x="512.00" y="317.50" font-size="4.36" stroke="#4d4d4d" stroke-width="0.08" fill="#4d4d4d" textLength="4.45" lengthAdjust="spacingAndGlyphs">20</text>
<circle cx="506.60" cy="322.80" r="2.60" fill="#000"/>
<text x="512.00" y="324.20" font-size="4.36" stroke="#4d4d4d" stroke-width="0.08" fill="#4d4d4d" textLength="4.45" lengthAdjust="spacingAndGlyphs">40</text>
<circle cx="506.60" cy="329.70" r="3.20" fill="#000"/>
<text x="512.00" y="331.10" font-size="4.36" stroke="#4d4d4d" stroke-width="0.08" fill="#4d4d4d" textLength="4.45" lengthAdjust="spacingAndGlyphs">60</text>
</svg>
</body></html>
